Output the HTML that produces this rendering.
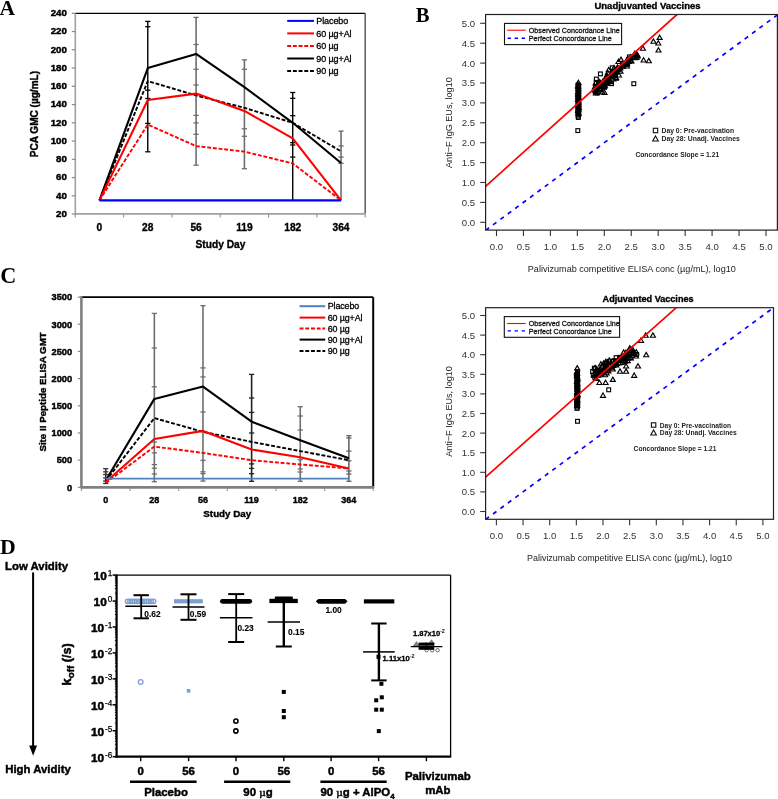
<!DOCTYPE html>
<html><head><meta charset="utf-8"><title>Figure</title>
<style>html,body{margin:0;padding:0;background:#fff;overflow:hidden;}svg{display:block;}</style></head>
<body><svg width="778" height="799" viewBox="0 0 778 799">
<rect x="0" y="0" width="778" height="799" fill="#fff"/>
<text x="-0.6" y="14.6" font-family="Liberation Serif, Times New Roman, serif" font-size="21.5" font-weight="bold" text-anchor="start" fill="#000" >A</text>
<text x="415.8" y="21.8" font-family="Liberation Serif, Times New Roman, serif" font-size="20.6" font-weight="bold" text-anchor="start" fill="#000" >B</text>
<text x="0.2" y="282.5" font-family="Liberation Serif, Times New Roman, serif" font-size="22.2" font-weight="bold" text-anchor="start" fill="#000" >C</text>
<text x="0.1" y="553.7" font-family="Liberation Serif, Times New Roman, serif" font-size="21.8" font-weight="bold" text-anchor="start" fill="#000" >D</text>
<line x1="75.3" y1="13.3" x2="365.2" y2="13.3" stroke="#000" stroke-width="1.3" />
<line x1="365.2" y1="13.3" x2="365.2" y2="213.9" stroke="#666" stroke-width="1.6" />
<line x1="75.3" y1="13.3" x2="75.3" y2="213.9" stroke="#a0a0a0" stroke-width="1.6" />
<line x1="74.5" y1="213.9" x2="366" y2="213.9" stroke="#a0a0a0" stroke-width="1.6" />
<line x1="71.8" y1="214.05" x2="75.3" y2="214.05" stroke="#888" stroke-width="1.2" />
<text x="66.8" y="216.92" font-family="Liberation Sans, Arial, sans-serif" font-size="9.7" font-weight="bold" text-anchor="end" fill="#000" stroke="#000" stroke-width="0.45" stroke-linejoin="round" >20</text>
<line x1="71.8" y1="195.8" x2="75.3" y2="195.8" stroke="#888" stroke-width="1.2" />
<text x="66.8" y="198.67" font-family="Liberation Sans, Arial, sans-serif" font-size="9.7" font-weight="bold" text-anchor="end" fill="#000" stroke="#000" stroke-width="0.45" stroke-linejoin="round" >40</text>
<line x1="71.8" y1="177.55" x2="75.3" y2="177.55" stroke="#888" stroke-width="1.2" />
<text x="66.8" y="180.42" font-family="Liberation Sans, Arial, sans-serif" font-size="9.7" font-weight="bold" text-anchor="end" fill="#000" stroke="#000" stroke-width="0.45" stroke-linejoin="round" >60</text>
<line x1="71.8" y1="159.3" x2="75.3" y2="159.3" stroke="#888" stroke-width="1.2" />
<text x="66.8" y="162.17" font-family="Liberation Sans, Arial, sans-serif" font-size="9.7" font-weight="bold" text-anchor="end" fill="#000" stroke="#000" stroke-width="0.45" stroke-linejoin="round" >80</text>
<line x1="71.8" y1="141.05" x2="75.3" y2="141.05" stroke="#888" stroke-width="1.2" />
<text x="66.8" y="143.92" font-family="Liberation Sans, Arial, sans-serif" font-size="9.7" font-weight="bold" text-anchor="end" fill="#000" stroke="#000" stroke-width="0.45" stroke-linejoin="round" >100</text>
<line x1="71.8" y1="122.8" x2="75.3" y2="122.8" stroke="#888" stroke-width="1.2" />
<text x="66.8" y="125.67" font-family="Liberation Sans, Arial, sans-serif" font-size="9.7" font-weight="bold" text-anchor="end" fill="#000" stroke="#000" stroke-width="0.45" stroke-linejoin="round" >120</text>
<line x1="71.8" y1="104.55" x2="75.3" y2="104.55" stroke="#888" stroke-width="1.2" />
<text x="66.8" y="107.42" font-family="Liberation Sans, Arial, sans-serif" font-size="9.7" font-weight="bold" text-anchor="end" fill="#000" stroke="#000" stroke-width="0.45" stroke-linejoin="round" >140</text>
<line x1="71.8" y1="86.3" x2="75.3" y2="86.3" stroke="#888" stroke-width="1.2" />
<text x="66.8" y="89.17" font-family="Liberation Sans, Arial, sans-serif" font-size="9.7" font-weight="bold" text-anchor="end" fill="#000" stroke="#000" stroke-width="0.45" stroke-linejoin="round" >160</text>
<line x1="71.8" y1="68.05" x2="75.3" y2="68.05" stroke="#888" stroke-width="1.2" />
<text x="66.8" y="70.92" font-family="Liberation Sans, Arial, sans-serif" font-size="9.7" font-weight="bold" text-anchor="end" fill="#000" stroke="#000" stroke-width="0.45" stroke-linejoin="round" >180</text>
<line x1="71.8" y1="49.8" x2="75.3" y2="49.8" stroke="#888" stroke-width="1.2" />
<text x="66.8" y="52.67" font-family="Liberation Sans, Arial, sans-serif" font-size="9.7" font-weight="bold" text-anchor="end" fill="#000" stroke="#000" stroke-width="0.45" stroke-linejoin="round" >200</text>
<line x1="71.8" y1="31.55" x2="75.3" y2="31.55" stroke="#888" stroke-width="1.2" />
<text x="66.8" y="34.42" font-family="Liberation Sans, Arial, sans-serif" font-size="9.7" font-weight="bold" text-anchor="end" fill="#000" stroke="#000" stroke-width="0.45" stroke-linejoin="round" >220</text>
<line x1="71.8" y1="13.3" x2="75.3" y2="13.3" stroke="#888" stroke-width="1.2" />
<text x="66.8" y="16.17" font-family="Liberation Sans, Arial, sans-serif" font-size="9.7" font-weight="bold" text-anchor="end" fill="#000" stroke="#000" stroke-width="0.45" stroke-linejoin="round" >240</text>
<line x1="75.3" y1="213.9" x2="75.3" y2="217.5" stroke="#999" stroke-width="1.2" />
<line x1="123.62" y1="213.9" x2="123.62" y2="217.5" stroke="#999" stroke-width="1.2" />
<line x1="171.93" y1="213.9" x2="171.93" y2="217.5" stroke="#999" stroke-width="1.2" />
<line x1="220.25" y1="213.9" x2="220.25" y2="217.5" stroke="#999" stroke-width="1.2" />
<line x1="268.57" y1="213.9" x2="268.57" y2="217.5" stroke="#999" stroke-width="1.2" />
<line x1="316.88" y1="213.9" x2="316.88" y2="217.5" stroke="#999" stroke-width="1.2" />
<line x1="365.2" y1="213.9" x2="365.2" y2="217.5" stroke="#999" stroke-width="1.2" />
<text x="99.46" y="231.35" font-family="Liberation Sans, Arial, sans-serif" font-size="10.2" font-weight="bold" text-anchor="middle" fill="#000" stroke="#000" stroke-width="0.35" stroke-linejoin="round" >0</text>
<text x="147.77" y="231.35" font-family="Liberation Sans, Arial, sans-serif" font-size="10.2" font-weight="bold" text-anchor="middle" fill="#000" stroke="#000" stroke-width="0.35" stroke-linejoin="round" >28</text>
<text x="196.09" y="231.35" font-family="Liberation Sans, Arial, sans-serif" font-size="10.2" font-weight="bold" text-anchor="middle" fill="#000" stroke="#000" stroke-width="0.35" stroke-linejoin="round" >56</text>
<text x="244.41" y="231.35" font-family="Liberation Sans, Arial, sans-serif" font-size="10.2" font-weight="bold" text-anchor="middle" fill="#000" stroke="#000" stroke-width="0.35" stroke-linejoin="round" >119</text>
<text x="292.72" y="231.35" font-family="Liberation Sans, Arial, sans-serif" font-size="10.2" font-weight="bold" text-anchor="middle" fill="#000" stroke="#000" stroke-width="0.35" stroke-linejoin="round" >182</text>
<text x="341.04" y="231.35" font-family="Liberation Sans, Arial, sans-serif" font-size="10.2" font-weight="bold" text-anchor="middle" fill="#000" stroke="#000" stroke-width="0.35" stroke-linejoin="round" >364</text>
<text x="220.5" y="247.65" font-family="Liberation Sans, Arial, sans-serif" font-size="10.2" font-weight="bold" text-anchor="middle" fill="#000" stroke="#000" stroke-width="0.35" stroke-linejoin="round" >Study Day</text>
<text transform="translate(38.4,114.1) rotate(-90)" font-family="Liberation Sans, Arial, sans-serif" font-size="10.05" font-weight="bold" text-anchor="middle" fill="#000" stroke="#000" stroke-width="0.4" stroke-linejoin="round">PCA GMC (µg/mL)</text>
<line x1="147.77" y1="21.4" x2="147.77" y2="151.8" stroke="#000" stroke-width="1.4" />
<line x1="145.17" y1="21.4" x2="150.37" y2="21.4" stroke="#000" stroke-width="1.3" />
<line x1="145.17" y1="26.7" x2="150.37" y2="26.7" stroke="#000" stroke-width="1.3" />
<line x1="145.17" y1="90.2" x2="150.37" y2="90.2" stroke="#000" stroke-width="1.3" />
<line x1="145.17" y1="98.5" x2="150.37" y2="98.5" stroke="#000" stroke-width="1.3" />
<line x1="145.17" y1="123.4" x2="150.37" y2="123.4" stroke="#000" stroke-width="1.3" />
<line x1="145.17" y1="151.8" x2="150.37" y2="151.8" stroke="#000" stroke-width="1.3" />
<line x1="196.09" y1="17.4" x2="196.09" y2="165.2" stroke="#6e6e6e" stroke-width="1.6" />
<line x1="193.49" y1="17.4" x2="198.69" y2="17.4" stroke="#6e6e6e" stroke-width="1.3" />
<line x1="193.49" y1="44.5" x2="198.69" y2="44.5" stroke="#6e6e6e" stroke-width="1.3" />
<line x1="193.49" y1="69.3" x2="198.69" y2="69.3" stroke="#6e6e6e" stroke-width="1.3" />
<line x1="193.49" y1="85" x2="198.69" y2="85" stroke="#6e6e6e" stroke-width="1.3" />
<line x1="193.49" y1="115.4" x2="198.69" y2="115.4" stroke="#6e6e6e" stroke-width="1.3" />
<line x1="193.49" y1="122.9" x2="198.69" y2="122.9" stroke="#6e6e6e" stroke-width="1.3" />
<line x1="193.49" y1="134.3" x2="198.69" y2="134.3" stroke="#6e6e6e" stroke-width="1.3" />
<line x1="193.49" y1="165.2" x2="198.69" y2="165.2" stroke="#6e6e6e" stroke-width="1.3" />
<line x1="244.41" y1="59.8" x2="244.41" y2="168.7" stroke="#6e6e6e" stroke-width="1.6" />
<line x1="241.81" y1="59.8" x2="247.01" y2="59.8" stroke="#6e6e6e" stroke-width="1.3" />
<line x1="241.81" y1="69.3" x2="247.01" y2="69.3" stroke="#6e6e6e" stroke-width="1.3" />
<line x1="241.81" y1="128.8" x2="247.01" y2="128.8" stroke="#6e6e6e" stroke-width="1.3" />
<line x1="241.81" y1="136.3" x2="247.01" y2="136.3" stroke="#6e6e6e" stroke-width="1.3" />
<line x1="241.81" y1="168.7" x2="247.01" y2="168.7" stroke="#6e6e6e" stroke-width="1.3" />
<line x1="292.72" y1="92.5" x2="292.72" y2="200.5" stroke="#000" stroke-width="1.4" />
<line x1="290.12" y1="92.5" x2="295.32" y2="92.5" stroke="#000" stroke-width="1.3" />
<line x1="290.12" y1="98.3" x2="295.32" y2="98.3" stroke="#000" stroke-width="1.3" />
<line x1="290.12" y1="115.7" x2="295.32" y2="115.7" stroke="#000" stroke-width="1.3" />
<line x1="290.12" y1="142.7" x2="295.32" y2="142.7" stroke="#000" stroke-width="1.3" />
<line x1="290.12" y1="145" x2="295.32" y2="145" stroke="#000" stroke-width="1.3" />
<line x1="290.12" y1="157.1" x2="295.32" y2="157.1" stroke="#000" stroke-width="1.3" />
<line x1="341.04" y1="131.1" x2="341.04" y2="200.5" stroke="#6e6e6e" stroke-width="1.6" />
<line x1="338.44" y1="131.1" x2="343.64" y2="131.1" stroke="#6e6e6e" stroke-width="1.3" />
<line x1="338.44" y1="145.9" x2="343.64" y2="145.9" stroke="#6e6e6e" stroke-width="1.3" />
<line x1="338.44" y1="157.1" x2="343.64" y2="157.1" stroke="#6e6e6e" stroke-width="1.3" />
<line x1="338.44" y1="163.3" x2="343.64" y2="163.3" stroke="#6e6e6e" stroke-width="1.3" />
<polyline points="99.46,200.36 147.77,81.1 196.09,95.42 244.41,107.83 292.72,122.8 341.04,151.36" fill="none" stroke="#000" stroke-width="1.9" stroke-linejoin="round" stroke-dasharray="3.9,1.8"/>
<polyline points="99.46,200.36 147.77,68.05 196.09,53.91 244.41,87.21 292.72,122.8 341.04,162.95" fill="none" stroke="#000" stroke-width="2.1" stroke-linejoin="round" />
<polyline points="99.46,200.36 147.77,124.62 196.09,146.07 244.41,151.64 292.72,163.41 341.04,200.36" fill="none" stroke="#ff0000" stroke-width="1.9" stroke-linejoin="round" stroke-dasharray="3.9,1.8"/>
<polyline points="99.46,200.36 147.77,99.99 196.09,93.6 244.41,110.94 292.72,138.31 341.04,200.36" fill="none" stroke="#ff0000" stroke-width="2.1" stroke-linejoin="round" />
<polyline points="99.46,200.36 147.77,200.36 196.09,200.36 244.41,200.36 292.72,200.36 341.04,200.36" fill="none" stroke="#0000ff" stroke-width="2.1" stroke-linejoin="round" />
<line x1="287.2" y1="20.9" x2="314" y2="20.9" stroke="#0000ff" stroke-width="2" />
<text x="316.3" y="24.12" font-family="Liberation Sans, Arial, sans-serif" font-size="9" font-weight="normal" text-anchor="start" fill="#000" stroke="#000" stroke-width="0.3" stroke-linejoin="round" letter-spacing="-0.1">Placebo</text>
<line x1="287.2" y1="33.4" x2="314" y2="33.4" stroke="#ff0000" stroke-width="2" />
<text x="316.3" y="36.62" font-family="Liberation Sans, Arial, sans-serif" font-size="9" font-weight="normal" text-anchor="start" fill="#000" stroke="#000" stroke-width="0.3" stroke-linejoin="round" letter-spacing="-0.1">60 µg+Al</text>
<line x1="287.2" y1="45.9" x2="314" y2="45.9" stroke="#ff0000" stroke-width="2" stroke-dasharray="3.9,1.8"/>
<text x="316.3" y="49.12" font-family="Liberation Sans, Arial, sans-serif" font-size="9" font-weight="normal" text-anchor="start" fill="#000" stroke="#000" stroke-width="0.3" stroke-linejoin="round" letter-spacing="-0.1">60 µg</text>
<line x1="287.2" y1="58.5" x2="314" y2="58.5" stroke="#000" stroke-width="2" />
<text x="316.3" y="61.72" font-family="Liberation Sans, Arial, sans-serif" font-size="9" font-weight="normal" text-anchor="start" fill="#000" stroke="#000" stroke-width="0.3" stroke-linejoin="round" letter-spacing="-0.1">90 µg+Al</text>
<line x1="287.2" y1="71" x2="314" y2="71" stroke="#000" stroke-width="2" stroke-dasharray="3.9,1.8"/>
<text x="316.3" y="74.22" font-family="Liberation Sans, Arial, sans-serif" font-size="9" font-weight="normal" text-anchor="start" fill="#000" stroke="#000" stroke-width="0.3" stroke-linejoin="round" letter-spacing="-0.1">90 µg</text>
<text x="647.5" y="9.2" font-family="Liberation Sans, Arial, sans-serif" font-size="9.5" font-weight="bold" text-anchor="middle" fill="#000" stroke="#000" stroke-width="0.35" stroke-linejoin="round" >Unadjuvanted Vaccines</text>
<clipPath id="cp14"><rect x="485.6" y="14.5" width="291.8" height="215.6"/></clipPath>
<g clip-path="url(#cp14)">
<line x1="485.6" y1="230.35" x2="777.4" y2="14.88" stroke="#0000ff" stroke-width="1.7" stroke-dasharray="4.3,4.9"/>
</g>
<rect x="576.21" y="83.1" width="3.8" height="3.8" fill="none" stroke="#000" stroke-width="1.15" />
<rect x="576.78" y="84.4" width="3.8" height="3.8" fill="none" stroke="#000" stroke-width="1.15" />
<rect x="576.71" y="85.7" width="3.8" height="3.8" fill="none" stroke="#000" stroke-width="1.15" />
<rect x="576.3" y="87" width="3.8" height="3.8" fill="none" stroke="#000" stroke-width="1.15" />
<rect x="576.5" y="88.3" width="3.8" height="3.8" fill="none" stroke="#000" stroke-width="1.15" />
<rect x="576.46" y="89.6" width="3.8" height="3.8" fill="none" stroke="#000" stroke-width="1.15" />
<rect x="576.62" y="90.9" width="3.8" height="3.8" fill="none" stroke="#000" stroke-width="1.15" />
<rect x="576.73" y="92.2" width="3.8" height="3.8" fill="none" stroke="#000" stroke-width="1.15" />
<rect x="576.18" y="93.5" width="3.8" height="3.8" fill="none" stroke="#000" stroke-width="1.15" />
<rect x="576.12" y="94.8" width="3.8" height="3.8" fill="none" stroke="#000" stroke-width="1.15" />
<rect x="576.77" y="96.1" width="3.8" height="3.8" fill="none" stroke="#000" stroke-width="1.15" />
<rect x="576.45" y="97.4" width="3.8" height="3.8" fill="none" stroke="#000" stroke-width="1.15" />
<rect x="576.71" y="98.7" width="3.8" height="3.8" fill="none" stroke="#000" stroke-width="1.15" />
<rect x="576.1" y="100" width="3.8" height="3.8" fill="none" stroke="#000" stroke-width="1.15" />
<rect x="576.46" y="101.3" width="3.8" height="3.8" fill="none" stroke="#000" stroke-width="1.15" />
<rect x="576.68" y="102.6" width="3.8" height="3.8" fill="none" stroke="#000" stroke-width="1.15" />
<rect x="576.28" y="103.9" width="3.8" height="3.8" fill="none" stroke="#000" stroke-width="1.15" />
<rect x="576.86" y="105.2" width="3.8" height="3.8" fill="none" stroke="#000" stroke-width="1.15" />
<rect x="576.82" y="106.5" width="3.8" height="3.8" fill="none" stroke="#000" stroke-width="1.15" />
<rect x="576.12" y="107.8" width="3.8" height="3.8" fill="none" stroke="#000" stroke-width="1.15" />
<rect x="576.12" y="109.1" width="3.8" height="3.8" fill="none" stroke="#000" stroke-width="1.15" />
<rect x="576.53" y="110.4" width="3.8" height="3.8" fill="none" stroke="#000" stroke-width="1.15" />
<rect x="576.85" y="111.7" width="3.8" height="3.8" fill="none" stroke="#000" stroke-width="1.15" />
<rect x="576.4" y="113" width="3.8" height="3.8" fill="none" stroke="#000" stroke-width="1.15" />
<rect x="576.27" y="114.3" width="3.8" height="3.8" fill="none" stroke="#000" stroke-width="1.15" />
<rect x="576.44" y="115.6" width="3.8" height="3.8" fill="none" stroke="#000" stroke-width="1.15" />
<polygon points="578.02,82.6 580.52,86.9 575.52,86.9" fill="none" stroke="#000" stroke-width="1.15" stroke-linejoin="miter"/>
<polygon points="578.18,84.2 580.68,88.5 575.68,88.5" fill="none" stroke="#000" stroke-width="1.15" stroke-linejoin="miter"/>
<polygon points="578.35,85.8 580.85,90.1 575.85,90.1" fill="none" stroke="#000" stroke-width="1.15" stroke-linejoin="miter"/>
<polygon points="578.4,87.4 580.9,91.7 575.9,91.7" fill="none" stroke="#000" stroke-width="1.15" stroke-linejoin="miter"/>
<polygon points="578.19,89 580.69,93.3 575.69,93.3" fill="none" stroke="#000" stroke-width="1.15" stroke-linejoin="miter"/>
<polygon points="578.18,90.6 580.68,94.9 575.68,94.9" fill="none" stroke="#000" stroke-width="1.15" stroke-linejoin="miter"/>
<polygon points="578.18,92.2 580.68,96.5 575.68,96.5" fill="none" stroke="#000" stroke-width="1.15" stroke-linejoin="miter"/>
<polygon points="578.37,93.8 580.87,98.1 575.87,98.1" fill="none" stroke="#000" stroke-width="1.15" stroke-linejoin="miter"/>
<polygon points="578.23,95.4 580.73,99.7 575.73,99.7" fill="none" stroke="#000" stroke-width="1.15" stroke-linejoin="miter"/>
<polygon points="578.02,97 580.52,101.3 575.52,101.3" fill="none" stroke="#000" stroke-width="1.15" stroke-linejoin="miter"/>
<polygon points="578.67,98.6 581.17,102.9 576.17,102.9" fill="none" stroke="#000" stroke-width="1.15" stroke-linejoin="miter"/>
<polygon points="578.45,100.2 580.95,104.5 575.95,104.5" fill="none" stroke="#000" stroke-width="1.15" stroke-linejoin="miter"/>
<polygon points="578.51,101.8 581.01,106.1 576.01,106.1" fill="none" stroke="#000" stroke-width="1.15" stroke-linejoin="miter"/>
<polygon points="578.15,103.4 580.65,107.7 575.65,107.7" fill="none" stroke="#000" stroke-width="1.15" stroke-linejoin="miter"/>
<polygon points="578.79,105 581.29,109.3 576.29,109.3" fill="none" stroke="#000" stroke-width="1.15" stroke-linejoin="miter"/>
<polygon points="578.69,106.6 581.19,110.9 576.19,110.9" fill="none" stroke="#000" stroke-width="1.15" stroke-linejoin="miter"/>
<polygon points="578.1,108.2 580.6,112.5 575.6,112.5" fill="none" stroke="#000" stroke-width="1.15" stroke-linejoin="miter"/>
<polygon points="578.27,109.8 580.77,114.1 575.77,114.1" fill="none" stroke="#000" stroke-width="1.15" stroke-linejoin="miter"/>
<polygon points="578.58,111.4 581.08,115.7 576.08,115.7" fill="none" stroke="#000" stroke-width="1.15" stroke-linejoin="miter"/>
<polygon points="626.96,63.65 629.46,67.95 624.46,67.95" fill="none" stroke="#000" stroke-width="1.15" stroke-linejoin="miter"/>
<polygon points="606.92,76.01 609.42,80.31 604.42,80.31" fill="none" stroke="#000" stroke-width="1.15" stroke-linejoin="miter"/>
<rect x="627.48" y="54.98" width="3.8" height="3.8" fill="none" stroke="#000" stroke-width="1.15" />
<polygon points="615.25,70.22 617.75,74.52 612.75,74.52" fill="none" stroke="#000" stroke-width="1.15" stroke-linejoin="miter"/>
<polygon points="613.32,73.79 615.82,78.09 610.82,78.09" fill="none" stroke="#000" stroke-width="1.15" stroke-linejoin="miter"/>
<rect x="597.81" y="87.24" width="3.8" height="3.8" fill="none" stroke="#000" stroke-width="1.15" />
<polygon points="626.92,57.59 629.42,61.89 624.42,61.89" fill="none" stroke="#000" stroke-width="1.15" stroke-linejoin="miter"/>
<polygon points="626.23,60.84 628.73,65.14 623.73,65.14" fill="none" stroke="#000" stroke-width="1.15" stroke-linejoin="miter"/>
<polygon points="594.84,84.72 597.34,89.02 592.34,89.02" fill="none" stroke="#000" stroke-width="1.15" stroke-linejoin="miter"/>
<polygon points="618.47,59.15 620.97,63.45 615.97,63.45" fill="none" stroke="#000" stroke-width="1.15" stroke-linejoin="miter"/>
<polygon points="618.9,72.65 621.4,76.95 616.4,76.95" fill="none" stroke="#000" stroke-width="1.15" stroke-linejoin="miter"/>
<polygon points="611.69,72.71 614.19,77.01 609.19,77.01" fill="none" stroke="#000" stroke-width="1.15" stroke-linejoin="miter"/>
<polygon points="634.6,51.26 637.1,55.56 632.1,55.56" fill="none" stroke="#000" stroke-width="1.15" stroke-linejoin="miter"/>
<rect x="620.5" y="63.31" width="3.8" height="3.8" fill="none" stroke="#000" stroke-width="1.15" />
<polygon points="613.45,76.69 615.95,80.99 610.95,80.99" fill="none" stroke="#000" stroke-width="1.15" stroke-linejoin="miter"/>
<polygon points="614.03,65.3 616.53,69.6 611.53,69.6" fill="none" stroke="#000" stroke-width="1.15" stroke-linejoin="miter"/>
<polygon points="615.84,75.78 618.34,80.08 613.34,80.08" fill="none" stroke="#000" stroke-width="1.15" stroke-linejoin="miter"/>
<polygon points="636.67,54.77 639.17,59.07 634.17,59.07" fill="none" stroke="#000" stroke-width="1.15" stroke-linejoin="miter"/>
<polygon points="614.65,69.07 617.15,73.37 612.15,73.37" fill="none" stroke="#000" stroke-width="1.15" stroke-linejoin="miter"/>
<rect x="613.56" y="72.94" width="3.8" height="3.8" fill="none" stroke="#000" stroke-width="1.15" />
<polygon points="628.31,56.92 630.81,61.22 625.81,61.22" fill="none" stroke="#000" stroke-width="1.15" stroke-linejoin="miter"/>
<polygon points="630.62,54.65 633.12,58.95 628.12,58.95" fill="none" stroke="#000" stroke-width="1.15" stroke-linejoin="miter"/>
<rect x="594.27" y="87.81" width="3.8" height="3.8" fill="none" stroke="#000" stroke-width="1.15" />
<polygon points="613.92,71.05 616.42,75.35 611.42,75.35" fill="none" stroke="#000" stroke-width="1.15" stroke-linejoin="miter"/>
<polygon points="606.83,80.72 609.33,85.02 604.33,85.02" fill="none" stroke="#000" stroke-width="1.15" stroke-linejoin="miter"/>
<polygon points="608.33,78.88 610.83,83.18 605.83,83.18" fill="none" stroke="#000" stroke-width="1.15" stroke-linejoin="miter"/>
<polygon points="600.3,80.9 602.8,85.2 597.8,85.2" fill="none" stroke="#000" stroke-width="1.15" stroke-linejoin="miter"/>
<polygon points="622.55,63.98 625.05,68.28 620.05,68.28" fill="none" stroke="#000" stroke-width="1.15" stroke-linejoin="miter"/>
<rect x="611.54" y="70.82" width="3.8" height="3.8" fill="none" stroke="#000" stroke-width="1.15" />
<polygon points="609.48,78.33 611.98,82.63 606.98,82.63" fill="none" stroke="#000" stroke-width="1.15" stroke-linejoin="miter"/>
<polygon points="612.99,72.8 615.49,77.1 610.49,77.1" fill="none" stroke="#000" stroke-width="1.15" stroke-linejoin="miter"/>
<polygon points="637.36,53.41 639.86,57.71 634.86,57.71" fill="none" stroke="#000" stroke-width="1.15" stroke-linejoin="miter"/>
<polygon points="630.43,58.36 632.93,62.66 627.93,62.66" fill="none" stroke="#000" stroke-width="1.15" stroke-linejoin="miter"/>
<polygon points="595.78,86.59 598.28,90.89 593.28,90.89" fill="none" stroke="#000" stroke-width="1.15" stroke-linejoin="miter"/>
<polygon points="612.19,69.62 614.69,73.92 609.69,73.92" fill="none" stroke="#000" stroke-width="1.15" stroke-linejoin="miter"/>
<polygon points="637.11,52.09 639.61,56.39 634.61,56.39" fill="none" stroke="#000" stroke-width="1.15" stroke-linejoin="miter"/>
<polygon points="603.1,78.58 605.6,82.88 600.6,82.88" fill="none" stroke="#000" stroke-width="1.15" stroke-linejoin="miter"/>
<polygon points="621.99,62.26 624.49,66.56 619.49,66.56" fill="none" stroke="#000" stroke-width="1.15" stroke-linejoin="miter"/>
<rect x="593.67" y="84.73" width="3.8" height="3.8" fill="none" stroke="#000" stroke-width="1.15" />
<rect x="609.61" y="81.77" width="3.8" height="3.8" fill="none" stroke="#000" stroke-width="1.15" />
<polygon points="610.19,79.33 612.69,83.63 607.69,83.63" fill="none" stroke="#000" stroke-width="1.15" stroke-linejoin="miter"/>
<polygon points="618.11,66.08 620.61,70.38 615.61,70.38" fill="none" stroke="#000" stroke-width="1.15" stroke-linejoin="miter"/>
<polygon points="594.87,87.89 597.37,92.19 592.37,92.19" fill="none" stroke="#000" stroke-width="1.15" stroke-linejoin="miter"/>
<polygon points="636.23,52.36 638.73,56.66 633.73,56.66" fill="none" stroke="#000" stroke-width="1.15" stroke-linejoin="miter"/>
<rect x="602.63" y="85.43" width="3.8" height="3.8" fill="none" stroke="#000" stroke-width="1.15" />
<polygon points="607.77,70.35 610.27,74.65 605.27,74.65" fill="none" stroke="#000" stroke-width="1.15" stroke-linejoin="miter"/>
<polygon points="595.63,80.69 598.13,84.99 593.13,84.99" fill="none" stroke="#000" stroke-width="1.15" stroke-linejoin="miter"/>
<polygon points="614.4,68.11 616.9,72.41 611.9,72.41" fill="none" stroke="#000" stroke-width="1.15" stroke-linejoin="miter"/>
<polygon points="605.86,75.39 608.36,79.69 603.36,79.69" fill="none" stroke="#000" stroke-width="1.15" stroke-linejoin="miter"/>
<rect x="631.88" y="55.49" width="3.8" height="3.8" fill="none" stroke="#000" stroke-width="1.15" />
<polygon points="602.85,84.21 605.35,88.51 600.35,88.51" fill="none" stroke="#000" stroke-width="1.15" stroke-linejoin="miter"/>
<polygon points="606.93,72.82 609.43,77.12 604.43,77.12" fill="none" stroke="#000" stroke-width="1.15" stroke-linejoin="miter"/>
<polygon points="607.15,79.59 609.65,83.89 604.65,83.89" fill="none" stroke="#000" stroke-width="1.15" stroke-linejoin="miter"/>
<polygon points="635.28,55.48 637.78,59.78 632.78,59.78" fill="none" stroke="#000" stroke-width="1.15" stroke-linejoin="miter"/>
<rect x="625.53" y="59.64" width="3.8" height="3.8" fill="none" stroke="#000" stroke-width="1.15" />
<polygon points="597.8,84.6 600.3,88.9 595.3,88.9" fill="none" stroke="#000" stroke-width="1.15" stroke-linejoin="miter"/>
<polygon points="600.34,80.33 602.84,84.63 597.84,84.63" fill="none" stroke="#000" stroke-width="1.15" stroke-linejoin="miter"/>
<polygon points="620.31,65.58 622.81,69.88 617.81,69.88" fill="none" stroke="#000" stroke-width="1.15" stroke-linejoin="miter"/>
<polygon points="609.71,73.57 612.21,77.87 607.21,77.87" fill="none" stroke="#000" stroke-width="1.15" stroke-linejoin="miter"/>
<rect x="599.32" y="84.68" width="3.8" height="3.8" fill="none" stroke="#000" stroke-width="1.15" />
<polygon points="607.06,74.62 609.56,78.92 604.56,78.92" fill="none" stroke="#000" stroke-width="1.15" stroke-linejoin="miter"/>
<polygon points="631.48,58.59 633.98,62.89 628.98,62.89" fill="none" stroke="#000" stroke-width="1.15" stroke-linejoin="miter"/>
<rect x="594.35" y="80.55" width="3.8" height="3.8" fill="none" stroke="#000" stroke-width="1.15" />
<polygon points="617.48,64.8 619.98,69.1 614.98,69.1" fill="none" stroke="#000" stroke-width="1.15" stroke-linejoin="miter"/>
<polygon points="620.49,68.85 622.99,73.15 617.99,73.15" fill="none" stroke="#000" stroke-width="1.15" stroke-linejoin="miter"/>
<rect x="616.7" y="67.21" width="3.8" height="3.8" fill="none" stroke="#000" stroke-width="1.15" />
<polygon points="613.88,70.57 616.38,74.87 611.38,74.87" fill="none" stroke="#000" stroke-width="1.15" stroke-linejoin="miter"/>
<rect x="595.49" y="91.08" width="3.8" height="3.8" fill="none" stroke="#000" stroke-width="1.15" />
<rect x="598.72" y="87.86" width="3.8" height="3.8" fill="none" stroke="#000" stroke-width="1.15" />
<polygon points="604.57,83.51 607.07,87.81 602.07,87.81" fill="none" stroke="#000" stroke-width="1.15" stroke-linejoin="miter"/>
<polygon points="599.11,79.26 601.61,83.56 596.61,83.56" fill="none" stroke="#000" stroke-width="1.15" stroke-linejoin="miter"/>
<rect x="625.73" y="62.02" width="3.8" height="3.8" fill="none" stroke="#000" stroke-width="1.15" />
<polygon points="616.05,75.22 618.55,79.52 613.55,79.52" fill="none" stroke="#000" stroke-width="1.15" stroke-linejoin="miter"/>
<polygon points="617.79,67.01 620.29,71.31 615.29,71.31" fill="none" stroke="#000" stroke-width="1.15" stroke-linejoin="miter"/>
<rect x="606.48" y="77.28" width="3.8" height="3.8" fill="none" stroke="#000" stroke-width="1.15" />
<polygon points="595.95,89 598.45,93.3 593.45,93.3" fill="none" stroke="#000" stroke-width="1.15" stroke-linejoin="miter"/>
<polygon points="625.5,60.53 628,64.83 623,64.83" fill="none" stroke="#000" stroke-width="1.15" stroke-linejoin="miter"/>
<polygon points="598.34,87.2 600.84,91.5 595.84,91.5" fill="none" stroke="#000" stroke-width="1.15" stroke-linejoin="miter"/>
<polygon points="637.59,53.31 640.09,57.61 635.09,57.61" fill="none" stroke="#000" stroke-width="1.15" stroke-linejoin="miter"/>
<polygon points="628.6,59 631.1,63.3 626.1,63.3" fill="none" stroke="#000" stroke-width="1.15" stroke-linejoin="miter"/>
<polygon points="623.2,63.54 625.7,67.84 620.7,67.84" fill="none" stroke="#000" stroke-width="1.15" stroke-linejoin="miter"/>
<polygon points="604.87,82.86 607.37,87.16 602.37,87.16" fill="none" stroke="#000" stroke-width="1.15" stroke-linejoin="miter"/>
<polygon points="596.93,83.84 599.43,88.14 594.43,88.14" fill="none" stroke="#000" stroke-width="1.15" stroke-linejoin="miter"/>
<polygon points="602.48,89.72 604.98,94.02 599.98,94.02" fill="none" stroke="#000" stroke-width="1.15" stroke-linejoin="miter"/>
<polygon points="634.57,52.27 637.07,56.57 632.07,56.57" fill="none" stroke="#000" stroke-width="1.15" stroke-linejoin="miter"/>
<polygon points="603.24,82.02 605.74,86.32 600.74,86.32" fill="none" stroke="#000" stroke-width="1.15" stroke-linejoin="miter"/>
<rect x="604.81" y="81.4" width="3.8" height="3.8" fill="none" stroke="#000" stroke-width="1.15" />
<rect x="604.32" y="80.89" width="3.8" height="3.8" fill="none" stroke="#000" stroke-width="1.15" />
<rect x="626.87" y="57.64" width="3.8" height="3.8" fill="none" stroke="#000" stroke-width="1.15" />
<rect x="625.08" y="62.56" width="3.8" height="3.8" fill="none" stroke="#000" stroke-width="1.15" />
<rect x="575.9" y="128.7" width="3.8" height="3.8" fill="none" stroke="#000" stroke-width="1.15" />
<rect x="631.9" y="81.8" width="3.8" height="3.8" fill="none" stroke="#000" stroke-width="1.15" />
<rect x="598.5" y="72" width="3.8" height="3.8" fill="none" stroke="#000" stroke-width="1.15" />
<rect x="594.4" y="77.2" width="3.8" height="3.8" fill="none" stroke="#000" stroke-width="1.15" />
<rect x="610.3" y="65.9" width="3.8" height="3.8" fill="none" stroke="#000" stroke-width="1.15" />
<polygon points="659.6,35.1 662.1,39.4 657.1,39.4" fill="none" stroke="#000" stroke-width="1.15" stroke-linejoin="miter"/>
<polygon points="653.4,38.9 655.9,43.2 650.9,43.2" fill="none" stroke="#000" stroke-width="1.15" stroke-linejoin="miter"/>
<polygon points="658.3,40.7 660.8,45 655.8,45" fill="none" stroke="#000" stroke-width="1.15" stroke-linejoin="miter"/>
<polygon points="658.5,47.7 661,52 656,52" fill="none" stroke="#000" stroke-width="1.15" stroke-linejoin="miter"/>
<polygon points="642.9,45.9 645.4,50.2 640.4,50.2" fill="none" stroke="#000" stroke-width="1.15" stroke-linejoin="miter"/>
<polygon points="643.6,57.7 646.1,62 641.1,62" fill="none" stroke="#000" stroke-width="1.15" stroke-linejoin="miter"/>
<polygon points="648.8,58.4 651.3,62.7 646.3,62.7" fill="none" stroke="#000" stroke-width="1.15" stroke-linejoin="miter"/>
<polygon points="604.5,90 607,94.3 602,94.3" fill="none" stroke="#000" stroke-width="1.15" stroke-linejoin="miter"/>
<polygon points="595.8,90.6 598.3,94.9 593.3,94.9" fill="none" stroke="#000" stroke-width="1.15" stroke-linejoin="miter"/>
<polygon points="608.7,67.4 611.2,71.7 606.2,71.7" fill="none" stroke="#000" stroke-width="1.15" stroke-linejoin="miter"/>
<polygon points="621,57.1 623.5,61.4 618.5,61.4" fill="none" stroke="#000" stroke-width="1.15" stroke-linejoin="miter"/>
<polygon points="578.4,80.2 580.9,84.5 575.9,84.5" fill="none" stroke="#000" stroke-width="1.15" stroke-linejoin="miter"/>
<g clip-path="url(#cp14)">
<line x1="485.6" y1="186.28" x2="677" y2="14.5" stroke="#ff0000" stroke-width="1.7" />
</g>
<rect x="485.6" y="14.5" width="291.8" height="215.6" fill="none" stroke="#222" stroke-width="1.2" />
<line x1="480.2" y1="222.3" x2="485.6" y2="222.3" stroke="#333" stroke-width="1.1" />
<text x="475" y="225.74" font-family="Liberation Sans, Arial, sans-serif" font-size="9.6" font-weight="normal" text-anchor="end" fill="#333" >0.0</text>
<line x1="496.5" y1="230.1" x2="496.5" y2="236.1" stroke="#333" stroke-width="1.1" />
<text x="496.5" y="250.24" font-family="Liberation Sans, Arial, sans-serif" font-size="9.6" font-weight="normal" text-anchor="middle" fill="#333" >0.0</text>
<line x1="480.2" y1="202.4" x2="485.6" y2="202.4" stroke="#333" stroke-width="1.1" />
<text x="475" y="205.84" font-family="Liberation Sans, Arial, sans-serif" font-size="9.6" font-weight="normal" text-anchor="end" fill="#333" >0.5</text>
<line x1="523.45" y1="230.1" x2="523.45" y2="236.1" stroke="#333" stroke-width="1.1" />
<text x="523.45" y="250.24" font-family="Liberation Sans, Arial, sans-serif" font-size="9.6" font-weight="normal" text-anchor="middle" fill="#333" >0.5</text>
<line x1="480.2" y1="182.5" x2="485.6" y2="182.5" stroke="#333" stroke-width="1.1" />
<text x="475" y="185.94" font-family="Liberation Sans, Arial, sans-serif" font-size="9.6" font-weight="normal" text-anchor="end" fill="#333" >1.0</text>
<line x1="550.4" y1="230.1" x2="550.4" y2="236.1" stroke="#333" stroke-width="1.1" />
<text x="550.4" y="250.24" font-family="Liberation Sans, Arial, sans-serif" font-size="9.6" font-weight="normal" text-anchor="middle" fill="#333" >1.0</text>
<line x1="480.2" y1="162.6" x2="485.6" y2="162.6" stroke="#333" stroke-width="1.1" />
<text x="475" y="166.04" font-family="Liberation Sans, Arial, sans-serif" font-size="9.6" font-weight="normal" text-anchor="end" fill="#333" >1.5</text>
<line x1="577.35" y1="230.1" x2="577.35" y2="236.1" stroke="#333" stroke-width="1.1" />
<text x="577.35" y="250.24" font-family="Liberation Sans, Arial, sans-serif" font-size="9.6" font-weight="normal" text-anchor="middle" fill="#333" >1.5</text>
<line x1="480.2" y1="142.7" x2="485.6" y2="142.7" stroke="#333" stroke-width="1.1" />
<text x="475" y="146.14" font-family="Liberation Sans, Arial, sans-serif" font-size="9.6" font-weight="normal" text-anchor="end" fill="#333" >2.0</text>
<line x1="604.3" y1="230.1" x2="604.3" y2="236.1" stroke="#333" stroke-width="1.1" />
<text x="604.3" y="250.24" font-family="Liberation Sans, Arial, sans-serif" font-size="9.6" font-weight="normal" text-anchor="middle" fill="#333" >2.0</text>
<line x1="480.2" y1="122.8" x2="485.6" y2="122.8" stroke="#333" stroke-width="1.1" />
<text x="475" y="126.24" font-family="Liberation Sans, Arial, sans-serif" font-size="9.6" font-weight="normal" text-anchor="end" fill="#333" >2.5</text>
<line x1="631.25" y1="230.1" x2="631.25" y2="236.1" stroke="#333" stroke-width="1.1" />
<text x="631.25" y="250.24" font-family="Liberation Sans, Arial, sans-serif" font-size="9.6" font-weight="normal" text-anchor="middle" fill="#333" >2.5</text>
<line x1="480.2" y1="102.9" x2="485.6" y2="102.9" stroke="#333" stroke-width="1.1" />
<text x="475" y="106.34" font-family="Liberation Sans, Arial, sans-serif" font-size="9.6" font-weight="normal" text-anchor="end" fill="#333" >3.0</text>
<line x1="658.2" y1="230.1" x2="658.2" y2="236.1" stroke="#333" stroke-width="1.1" />
<text x="658.2" y="250.24" font-family="Liberation Sans, Arial, sans-serif" font-size="9.6" font-weight="normal" text-anchor="middle" fill="#333" >3.0</text>
<line x1="480.2" y1="83" x2="485.6" y2="83" stroke="#333" stroke-width="1.1" />
<text x="475" y="86.44" font-family="Liberation Sans, Arial, sans-serif" font-size="9.6" font-weight="normal" text-anchor="end" fill="#333" >3.5</text>
<line x1="685.15" y1="230.1" x2="685.15" y2="236.1" stroke="#333" stroke-width="1.1" />
<text x="685.15" y="250.24" font-family="Liberation Sans, Arial, sans-serif" font-size="9.6" font-weight="normal" text-anchor="middle" fill="#333" >3.5</text>
<line x1="480.2" y1="63.1" x2="485.6" y2="63.1" stroke="#333" stroke-width="1.1" />
<text x="475" y="66.54" font-family="Liberation Sans, Arial, sans-serif" font-size="9.6" font-weight="normal" text-anchor="end" fill="#333" >4.0</text>
<line x1="712.1" y1="230.1" x2="712.1" y2="236.1" stroke="#333" stroke-width="1.1" />
<text x="712.1" y="250.24" font-family="Liberation Sans, Arial, sans-serif" font-size="9.6" font-weight="normal" text-anchor="middle" fill="#333" >4.0</text>
<line x1="480.2" y1="43.2" x2="485.6" y2="43.2" stroke="#333" stroke-width="1.1" />
<text x="475" y="46.64" font-family="Liberation Sans, Arial, sans-serif" font-size="9.6" font-weight="normal" text-anchor="end" fill="#333" >4.5</text>
<line x1="739.05" y1="230.1" x2="739.05" y2="236.1" stroke="#333" stroke-width="1.1" />
<text x="739.05" y="250.24" font-family="Liberation Sans, Arial, sans-serif" font-size="9.6" font-weight="normal" text-anchor="middle" fill="#333" >4.5</text>
<line x1="480.2" y1="23.3" x2="485.6" y2="23.3" stroke="#333" stroke-width="1.1" />
<text x="475" y="26.74" font-family="Liberation Sans, Arial, sans-serif" font-size="9.6" font-weight="normal" text-anchor="end" fill="#333" >5.0</text>
<line x1="766" y1="230.1" x2="766" y2="236.1" stroke="#333" stroke-width="1.1" />
<text x="766" y="250.24" font-family="Liberation Sans, Arial, sans-serif" font-size="9.6" font-weight="normal" text-anchor="middle" fill="#333" >5.0</text>
<text x="735.8" y="272.1" font-family="Liberation Sans, Arial, sans-serif" font-size="9.3" font-weight="normal" text-anchor="end" fill="#222" textLength="208" lengthAdjust="spacingAndGlyphs">Palivizumab competitive ELISA conc (µg/mL), log10</text>
<text transform="translate(451.8,122.6) rotate(-90)" font-family="Liberation Sans, Arial, sans-serif" font-size="9.1" text-anchor="middle" fill="#222">Anti−F IgG EUs, log10</text>
<rect x="504.5" y="23.4" width="117.1" height="21.2" fill="#fff" stroke="#111" stroke-width="1.1" />
<line x1="507.2" y1="30.2" x2="525.7" y2="30.2" stroke="#ff0000" stroke-width="1.1" />
<line x1="507.6" y1="38.3" x2="525.7" y2="38.3" stroke="#0000ff" stroke-width="1.4" stroke-dasharray="3.4,3.6"/>
<text x="528.8" y="32.9" font-family="Liberation Sans, Arial, sans-serif" font-size="7.6" font-weight="normal" text-anchor="start" fill="#111" stroke="#111" stroke-width="0.3" stroke-linejoin="round" textLength="91" lengthAdjust="spacingAndGlyphs">Observed Concordance Line</text>
<text x="528.8" y="41" font-family="Liberation Sans, Arial, sans-serif" font-size="7.6" font-weight="normal" text-anchor="start" fill="#111" stroke="#111" stroke-width="0.3" stroke-linejoin="round" textLength="83" lengthAdjust="spacingAndGlyphs">Perfect Concordance Line</text>
<rect x="653.3" y="128.3" width="4.4" height="4.4" fill="none" stroke="#111" stroke-width="1.1" />
<polygon points="655.5,136 658.3,141 652.7,141" fill="none" stroke="#111" stroke-width="1.1"/>
<text x="661.6" y="133.1" font-family="Liberation Sans, Arial, sans-serif" font-size="7.3" font-weight="bold" text-anchor="start" fill="#222" textLength="72.5" lengthAdjust="spacingAndGlyphs">Day 0: Pre-vaccination</text>
<text x="661.6" y="141.4" font-family="Liberation Sans, Arial, sans-serif" font-size="7.3" font-weight="bold" text-anchor="start" fill="#222" textLength="78.2" lengthAdjust="spacingAndGlyphs">Day 28: Unadj. Vaccines</text>
<text x="635.4" y="156.8" font-family="Liberation Sans, Arial, sans-serif" font-size="7.3" font-weight="bold" text-anchor="start" fill="#222" textLength="83.8" lengthAdjust="spacingAndGlyphs">Concordance Slope = 1.21</text>
<text x="648.1" y="302.26" font-family="Liberation Sans, Arial, sans-serif" font-size="9.1" font-weight="bold" text-anchor="middle" fill="#000" stroke="#000" stroke-width="0.35" stroke-linejoin="round" >Adjuvanted Vaccines</text>
<clipPath id="cp307"><rect x="485.6" y="307.7" width="287.9" height="211.6"/></clipPath>
<g clip-path="url(#cp307)">
<line x1="485.6" y1="519.44" x2="773.5" y2="307.7" stroke="#0000ff" stroke-width="1.7" stroke-dasharray="4.3,4.9"/>
</g>
<rect x="575.66" y="370.1" width="3.8" height="3.8" fill="none" stroke="#000" stroke-width="1.15" />
<rect x="575.66" y="371.4" width="3.8" height="3.8" fill="none" stroke="#000" stroke-width="1.15" />
<rect x="574.95" y="372.7" width="3.8" height="3.8" fill="none" stroke="#000" stroke-width="1.15" />
<rect x="574.97" y="374" width="3.8" height="3.8" fill="none" stroke="#000" stroke-width="1.15" />
<rect x="575.57" y="375.3" width="3.8" height="3.8" fill="none" stroke="#000" stroke-width="1.15" />
<rect x="575.49" y="376.6" width="3.8" height="3.8" fill="none" stroke="#000" stroke-width="1.15" />
<rect x="575.44" y="377.9" width="3.8" height="3.8" fill="none" stroke="#000" stroke-width="1.15" />
<rect x="575.15" y="379.2" width="3.8" height="3.8" fill="none" stroke="#000" stroke-width="1.15" />
<rect x="575.38" y="380.5" width="3.8" height="3.8" fill="none" stroke="#000" stroke-width="1.15" />
<rect x="575.39" y="381.8" width="3.8" height="3.8" fill="none" stroke="#000" stroke-width="1.15" />
<rect x="575.36" y="383.1" width="3.8" height="3.8" fill="none" stroke="#000" stroke-width="1.15" />
<rect x="575.03" y="384.4" width="3.8" height="3.8" fill="none" stroke="#000" stroke-width="1.15" />
<rect x="575.24" y="385.7" width="3.8" height="3.8" fill="none" stroke="#000" stroke-width="1.15" />
<rect x="575.21" y="387" width="3.8" height="3.8" fill="none" stroke="#000" stroke-width="1.15" />
<rect x="575.48" y="388.3" width="3.8" height="3.8" fill="none" stroke="#000" stroke-width="1.15" />
<rect x="575.7" y="389.6" width="3.8" height="3.8" fill="none" stroke="#000" stroke-width="1.15" />
<rect x="575.66" y="390.9" width="3.8" height="3.8" fill="none" stroke="#000" stroke-width="1.15" />
<rect x="575.34" y="392.2" width="3.8" height="3.8" fill="none" stroke="#000" stroke-width="1.15" />
<rect x="575.26" y="393.5" width="3.8" height="3.8" fill="none" stroke="#000" stroke-width="1.15" />
<rect x="575.11" y="394.8" width="3.8" height="3.8" fill="none" stroke="#000" stroke-width="1.15" />
<rect x="574.93" y="396.1" width="3.8" height="3.8" fill="none" stroke="#000" stroke-width="1.15" />
<rect x="574.92" y="397.4" width="3.8" height="3.8" fill="none" stroke="#000" stroke-width="1.15" />
<rect x="575.27" y="398.7" width="3.8" height="3.8" fill="none" stroke="#000" stroke-width="1.15" />
<rect x="575.15" y="400" width="3.8" height="3.8" fill="none" stroke="#000" stroke-width="1.15" />
<rect x="575.2" y="401.3" width="3.8" height="3.8" fill="none" stroke="#000" stroke-width="1.15" />
<rect x="575.61" y="402.6" width="3.8" height="3.8" fill="none" stroke="#000" stroke-width="1.15" />
<rect x="575.32" y="403.9" width="3.8" height="3.8" fill="none" stroke="#000" stroke-width="1.15" />
<rect x="575.35" y="405.2" width="3.8" height="3.8" fill="none" stroke="#000" stroke-width="1.15" />
<rect x="575.09" y="406.5" width="3.8" height="3.8" fill="none" stroke="#000" stroke-width="1.15" />
<polygon points="576.82,369.6 579.32,373.9 574.32,373.9" fill="none" stroke="#000" stroke-width="1.15" stroke-linejoin="miter"/>
<polygon points="577.06,371.2 579.56,375.5 574.56,375.5" fill="none" stroke="#000" stroke-width="1.15" stroke-linejoin="miter"/>
<polygon points="576.91,372.8 579.41,377.1 574.41,377.1" fill="none" stroke="#000" stroke-width="1.15" stroke-linejoin="miter"/>
<polygon points="577.21,374.4 579.71,378.7 574.71,378.7" fill="none" stroke="#000" stroke-width="1.15" stroke-linejoin="miter"/>
<polygon points="577.6,376 580.1,380.3 575.1,380.3" fill="none" stroke="#000" stroke-width="1.15" stroke-linejoin="miter"/>
<polygon points="577.34,377.6 579.84,381.9 574.84,381.9" fill="none" stroke="#000" stroke-width="1.15" stroke-linejoin="miter"/>
<polygon points="576.95,379.2 579.45,383.5 574.45,383.5" fill="none" stroke="#000" stroke-width="1.15" stroke-linejoin="miter"/>
<polygon points="577.51,380.8 580.01,385.1 575.01,385.1" fill="none" stroke="#000" stroke-width="1.15" stroke-linejoin="miter"/>
<polygon points="577.44,382.4 579.94,386.7 574.94,386.7" fill="none" stroke="#000" stroke-width="1.15" stroke-linejoin="miter"/>
<polygon points="577.39,384 579.89,388.3 574.89,388.3" fill="none" stroke="#000" stroke-width="1.15" stroke-linejoin="miter"/>
<polygon points="577.53,385.6 580.03,389.9 575.03,389.9" fill="none" stroke="#000" stroke-width="1.15" stroke-linejoin="miter"/>
<polygon points="577.41,387.2 579.91,391.5 574.91,391.5" fill="none" stroke="#000" stroke-width="1.15" stroke-linejoin="miter"/>
<polygon points="577.43,388.8 579.93,393.1 574.93,393.1" fill="none" stroke="#000" stroke-width="1.15" stroke-linejoin="miter"/>
<polygon points="577.08,390.4 579.58,394.7 574.58,394.7" fill="none" stroke="#000" stroke-width="1.15" stroke-linejoin="miter"/>
<polygon points="577.58,392 580.08,396.3 575.08,396.3" fill="none" stroke="#000" stroke-width="1.15" stroke-linejoin="miter"/>
<polygon points="577.57,393.6 580.07,397.9 575.07,397.9" fill="none" stroke="#000" stroke-width="1.15" stroke-linejoin="miter"/>
<polygon points="576.93,395.2 579.43,399.5 574.43,399.5" fill="none" stroke="#000" stroke-width="1.15" stroke-linejoin="miter"/>
<polygon points="577.4,396.8 579.9,401.1 574.9,401.1" fill="none" stroke="#000" stroke-width="1.15" stroke-linejoin="miter"/>
<polygon points="577.37,398.4 579.87,402.7 574.87,402.7" fill="none" stroke="#000" stroke-width="1.15" stroke-linejoin="miter"/>
<polygon points="577.17,400 579.67,404.3 574.67,404.3" fill="none" stroke="#000" stroke-width="1.15" stroke-linejoin="miter"/>
<polygon points="577.22,401.6 579.72,405.9 574.72,405.9" fill="none" stroke="#000" stroke-width="1.15" stroke-linejoin="miter"/>
<polygon points="577.19,403.2 579.69,407.5 574.69,407.5" fill="none" stroke="#000" stroke-width="1.15" stroke-linejoin="miter"/>
<polygon points="629.81,345.67 632.31,349.97 627.31,349.97" fill="none" stroke="#000" stroke-width="1.15" stroke-linejoin="miter"/>
<polygon points="621.19,356.39 623.69,360.69 618.69,360.69" fill="none" stroke="#000" stroke-width="1.15" stroke-linejoin="miter"/>
<polygon points="629.57,347.66 632.07,351.96 627.07,351.96" fill="none" stroke="#000" stroke-width="1.15" stroke-linejoin="miter"/>
<polygon points="614.26,361.55 616.76,365.85 611.76,365.85" fill="none" stroke="#000" stroke-width="1.15" stroke-linejoin="miter"/>
<polygon points="633.89,350.9 636.39,355.2 631.39,355.2" fill="none" stroke="#000" stroke-width="1.15" stroke-linejoin="miter"/>
<polygon points="623.62,349.85 626.12,354.15 621.12,354.15" fill="none" stroke="#000" stroke-width="1.15" stroke-linejoin="miter"/>
<polygon points="608.38,368.62 610.88,372.92 605.88,372.92" fill="none" stroke="#000" stroke-width="1.15" stroke-linejoin="miter"/>
<polygon points="605.98,364.45 608.48,368.75 603.48,368.75" fill="none" stroke="#000" stroke-width="1.15" stroke-linejoin="miter"/>
<rect x="610.73" y="359.15" width="3.8" height="3.8" fill="none" stroke="#000" stroke-width="1.15" />
<polygon points="627.82,355.7 630.32,360 625.32,360" fill="none" stroke="#000" stroke-width="1.15" stroke-linejoin="miter"/>
<rect x="622.71" y="356.44" width="3.8" height="3.8" fill="none" stroke="#000" stroke-width="1.15" />
<rect x="593.52" y="371.52" width="3.8" height="3.8" fill="none" stroke="#000" stroke-width="1.15" />
<rect x="603.37" y="367.46" width="3.8" height="3.8" fill="none" stroke="#000" stroke-width="1.15" />
<polygon points="627.72,358.36 630.22,362.66 625.22,362.66" fill="none" stroke="#000" stroke-width="1.15" stroke-linejoin="miter"/>
<rect x="627.41" y="352.06" width="3.8" height="3.8" fill="none" stroke="#000" stroke-width="1.15" />
<rect x="610.17" y="364.47" width="3.8" height="3.8" fill="none" stroke="#000" stroke-width="1.15" />
<rect x="593.27" y="371.3" width="3.8" height="3.8" fill="none" stroke="#000" stroke-width="1.15" />
<rect x="595.75" y="372.92" width="3.8" height="3.8" fill="none" stroke="#000" stroke-width="1.15" />
<polygon points="594.45,372.58 596.95,376.88 591.95,376.88" fill="none" stroke="#000" stroke-width="1.15" stroke-linejoin="miter"/>
<polygon points="598.52,369.59 601.02,373.89 596.02,373.89" fill="none" stroke="#000" stroke-width="1.15" stroke-linejoin="miter"/>
<rect x="622.3" y="354.92" width="3.8" height="3.8" fill="none" stroke="#000" stroke-width="1.15" />
<polygon points="626.76,353.01 629.26,357.31 624.26,357.31" fill="none" stroke="#000" stroke-width="1.15" stroke-linejoin="miter"/>
<rect x="599.04" y="371.83" width="3.8" height="3.8" fill="none" stroke="#000" stroke-width="1.15" />
<polygon points="605.7,366.43 608.2,370.73 603.2,370.73" fill="none" stroke="#000" stroke-width="1.15" stroke-linejoin="miter"/>
<rect x="590.71" y="369.54" width="3.8" height="3.8" fill="none" stroke="#000" stroke-width="1.15" />
<polygon points="632,351.44 634.5,355.74 629.5,355.74" fill="none" stroke="#000" stroke-width="1.15" stroke-linejoin="miter"/>
<polygon points="629.23,350.62 631.73,354.92 626.73,354.92" fill="none" stroke="#000" stroke-width="1.15" stroke-linejoin="miter"/>
<polygon points="595.93,368.58 598.43,372.88 593.43,372.88" fill="none" stroke="#000" stroke-width="1.15" stroke-linejoin="miter"/>
<polygon points="630.89,355.63 633.39,359.93 628.39,359.93" fill="none" stroke="#000" stroke-width="1.15" stroke-linejoin="miter"/>
<polygon points="615.53,360.64 618.03,364.94 613.03,364.94" fill="none" stroke="#000" stroke-width="1.15" stroke-linejoin="miter"/>
<polygon points="612.62,358.82 615.12,363.12 610.12,363.12" fill="none" stroke="#000" stroke-width="1.15" stroke-linejoin="miter"/>
<polygon points="606.63,370.52 609.13,374.82 604.13,374.82" fill="none" stroke="#000" stroke-width="1.15" stroke-linejoin="miter"/>
<rect x="617.93" y="355.44" width="3.8" height="3.8" fill="none" stroke="#000" stroke-width="1.15" />
<polygon points="600.92,361.7 603.42,366 598.42,366" fill="none" stroke="#000" stroke-width="1.15" stroke-linejoin="miter"/>
<rect x="599.8" y="372.17" width="3.8" height="3.8" fill="none" stroke="#000" stroke-width="1.15" />
<polygon points="636.23,349.64 638.73,353.94 633.73,353.94" fill="none" stroke="#000" stroke-width="1.15" stroke-linejoin="miter"/>
<polygon points="623.87,355.86 626.37,360.16 621.37,360.16" fill="none" stroke="#000" stroke-width="1.15" stroke-linejoin="miter"/>
<polygon points="619.87,357.76 622.37,362.06 617.37,362.06" fill="none" stroke="#000" stroke-width="1.15" stroke-linejoin="miter"/>
<rect x="600.89" y="364.93" width="3.8" height="3.8" fill="none" stroke="#000" stroke-width="1.15" />
<polygon points="600.5,370.65 603,374.95 598,374.95" fill="none" stroke="#000" stroke-width="1.15" stroke-linejoin="miter"/>
<polygon points="612.18,365.49 614.68,369.79 609.68,369.79" fill="none" stroke="#000" stroke-width="1.15" stroke-linejoin="miter"/>
<rect x="597.13" y="373.39" width="3.8" height="3.8" fill="none" stroke="#000" stroke-width="1.15" />
<polygon points="601.15,368.82 603.65,373.12 598.65,373.12" fill="none" stroke="#000" stroke-width="1.15" stroke-linejoin="miter"/>
<polygon points="613.38,363.2 615.88,367.5 610.88,367.5" fill="none" stroke="#000" stroke-width="1.15" stroke-linejoin="miter"/>
<polygon points="605.11,372.44 607.61,376.74 602.61,376.74" fill="none" stroke="#000" stroke-width="1.15" stroke-linejoin="miter"/>
<rect x="607.54" y="359.89" width="3.8" height="3.8" fill="none" stroke="#000" stroke-width="1.15" />
<polygon points="619.1,360.58 621.6,364.88 616.6,364.88" fill="none" stroke="#000" stroke-width="1.15" stroke-linejoin="miter"/>
<polygon points="632.51,350.51 635.01,354.81 630.01,354.81" fill="none" stroke="#000" stroke-width="1.15" stroke-linejoin="miter"/>
<polygon points="605.89,359.16 608.39,363.46 603.39,363.46" fill="none" stroke="#000" stroke-width="1.15" stroke-linejoin="miter"/>
<polygon points="605.23,365.32 607.73,369.62 602.73,369.62" fill="none" stroke="#000" stroke-width="1.15" stroke-linejoin="miter"/>
<rect x="605.4" y="367.47" width="3.8" height="3.8" fill="none" stroke="#000" stroke-width="1.15" />
<rect x="603.41" y="364.42" width="3.8" height="3.8" fill="none" stroke="#000" stroke-width="1.15" />
<polygon points="629.24,355.41 631.74,359.71 626.74,359.71" fill="none" stroke="#000" stroke-width="1.15" stroke-linejoin="miter"/>
<rect x="600.94" y="369.59" width="3.8" height="3.8" fill="none" stroke="#000" stroke-width="1.15" />
<rect x="592.83" y="375.45" width="3.8" height="3.8" fill="none" stroke="#000" stroke-width="1.15" />
<polygon points="602.79,367.97 605.29,372.27 600.29,372.27" fill="none" stroke="#000" stroke-width="1.15" stroke-linejoin="miter"/>
<polygon points="600.33,366.46 602.83,370.76 597.83,370.76" fill="none" stroke="#000" stroke-width="1.15" stroke-linejoin="miter"/>
<polygon points="598.72,368.8 601.22,373.1 596.22,373.1" fill="none" stroke="#000" stroke-width="1.15" stroke-linejoin="miter"/>
<rect x="608.58" y="364.5" width="3.8" height="3.8" fill="none" stroke="#000" stroke-width="1.15" />
<polygon points="619.77,358.32 622.27,362.62 617.27,362.62" fill="none" stroke="#000" stroke-width="1.15" stroke-linejoin="miter"/>
<rect x="620.37" y="360.62" width="3.8" height="3.8" fill="none" stroke="#000" stroke-width="1.15" />
<polygon points="618.88,356.7 621.38,361 616.38,361" fill="none" stroke="#000" stroke-width="1.15" stroke-linejoin="miter"/>
<polygon points="625.81,353.05 628.31,357.35 623.31,357.35" fill="none" stroke="#000" stroke-width="1.15" stroke-linejoin="miter"/>
<polygon points="632.22,346.34 634.72,350.64 629.72,350.64" fill="none" stroke="#000" stroke-width="1.15" stroke-linejoin="miter"/>
<polygon points="626.77,352.61 629.27,356.91 624.27,356.91" fill="none" stroke="#000" stroke-width="1.15" stroke-linejoin="miter"/>
<polygon points="625.21,357.53 627.71,361.83 622.71,361.83" fill="none" stroke="#000" stroke-width="1.15" stroke-linejoin="miter"/>
<polygon points="633.12,350.44 635.62,354.74 630.62,354.74" fill="none" stroke="#000" stroke-width="1.15" stroke-linejoin="miter"/>
<polygon points="599.05,367.76 601.55,372.06 596.55,372.06" fill="none" stroke="#000" stroke-width="1.15" stroke-linejoin="miter"/>
<rect x="613.88" y="358.69" width="3.8" height="3.8" fill="none" stroke="#000" stroke-width="1.15" />
<rect x="614.23" y="355.72" width="3.8" height="3.8" fill="none" stroke="#000" stroke-width="1.15" />
<polygon points="597.13,372.67 599.63,376.97 594.63,376.97" fill="none" stroke="#000" stroke-width="1.15" stroke-linejoin="miter"/>
<rect x="630.7" y="353.28" width="3.8" height="3.8" fill="none" stroke="#000" stroke-width="1.15" />
<rect x="628.8" y="348.92" width="3.8" height="3.8" fill="none" stroke="#000" stroke-width="1.15" />
<polygon points="596.67,366.47 599.17,370.77 594.17,370.77" fill="none" stroke="#000" stroke-width="1.15" stroke-linejoin="miter"/>
<polygon points="609.12,362.17 611.62,366.47 606.62,366.47" fill="none" stroke="#000" stroke-width="1.15" stroke-linejoin="miter"/>
<polygon points="609.24,357.8 611.74,362.1 606.74,362.1" fill="none" stroke="#000" stroke-width="1.15" stroke-linejoin="miter"/>
<polygon points="595.05,365.37 597.55,369.67 592.55,369.67" fill="none" stroke="#000" stroke-width="1.15" stroke-linejoin="miter"/>
<polygon points="596.65,369.5 599.15,373.8 594.15,373.8" fill="none" stroke="#000" stroke-width="1.15" stroke-linejoin="miter"/>
<polygon points="623.33,354.84 625.83,359.14 620.83,359.14" fill="none" stroke="#000" stroke-width="1.15" stroke-linejoin="miter"/>
<polygon points="635.96,353.66 638.46,357.96 633.46,357.96" fill="none" stroke="#000" stroke-width="1.15" stroke-linejoin="miter"/>
<polygon points="612.66,366.71 615.16,371.01 610.16,371.01" fill="none" stroke="#000" stroke-width="1.15" stroke-linejoin="miter"/>
<rect x="611.05" y="361.77" width="3.8" height="3.8" fill="none" stroke="#000" stroke-width="1.15" />
<polygon points="625.85,350.04 628.35,354.34 623.35,354.34" fill="none" stroke="#000" stroke-width="1.15" stroke-linejoin="miter"/>
<polygon points="616.26,362.61 618.76,366.91 613.76,366.91" fill="none" stroke="#000" stroke-width="1.15" stroke-linejoin="miter"/>
<polygon points="604.87,366.22 607.37,370.52 602.37,370.52" fill="none" stroke="#000" stroke-width="1.15" stroke-linejoin="miter"/>
<polygon points="625.14,358.76 627.64,363.06 622.64,363.06" fill="none" stroke="#000" stroke-width="1.15" stroke-linejoin="miter"/>
<rect x="604.68" y="361.37" width="3.8" height="3.8" fill="none" stroke="#000" stroke-width="1.15" />
<polygon points="624.8,352.87 627.3,357.17 622.3,357.17" fill="none" stroke="#000" stroke-width="1.15" stroke-linejoin="miter"/>
<polygon points="616.7,361.19 619.2,365.49 614.2,365.49" fill="none" stroke="#000" stroke-width="1.15" stroke-linejoin="miter"/>
<rect x="634.77" y="352.5" width="3.8" height="3.8" fill="none" stroke="#000" stroke-width="1.15" />
<polygon points="603.76,360.7 606.26,365 601.26,365" fill="none" stroke="#000" stroke-width="1.15" stroke-linejoin="miter"/>
<rect x="618.4" y="356.52" width="3.8" height="3.8" fill="none" stroke="#000" stroke-width="1.15" />
<polygon points="596.1,376.08 598.6,380.38 593.6,380.38" fill="none" stroke="#000" stroke-width="1.15" stroke-linejoin="miter"/>
<rect x="628.81" y="349.49" width="3.8" height="3.8" fill="none" stroke="#000" stroke-width="1.15" />
<polygon points="607.61,359.75 610.11,364.05 605.11,364.05" fill="none" stroke="#000" stroke-width="1.15" stroke-linejoin="miter"/>
<rect x="575.6" y="419.4" width="3.8" height="3.8" fill="none" stroke="#000" stroke-width="1.15" />
<rect x="606.8" y="387.9" width="3.8" height="3.8" fill="none" stroke="#000" stroke-width="1.15" />
<rect x="592.4" y="366.3" width="3.8" height="3.8" fill="none" stroke="#000" stroke-width="1.15" />
<rect x="591.3" y="373.5" width="3.8" height="3.8" fill="none" stroke="#000" stroke-width="1.15" />
<polygon points="652.9,332.9 655.4,337.2 650.4,337.2" fill="none" stroke="#000" stroke-width="1.15" stroke-linejoin="miter"/>
<polygon points="645.7,332.9 648.2,337.2 643.2,337.2" fill="none" stroke="#000" stroke-width="1.15" stroke-linejoin="miter"/>
<polygon points="641,338 643.5,342.3 638.5,342.3" fill="none" stroke="#000" stroke-width="1.15" stroke-linejoin="miter"/>
<polygon points="646.2,352.4 648.7,356.7 643.7,356.7" fill="none" stroke="#000" stroke-width="1.15" stroke-linejoin="miter"/>
<polygon points="638,363.7 640.5,368 635.5,368" fill="none" stroke="#000" stroke-width="1.15" stroke-linejoin="miter"/>
<polygon points="634.2,373 636.7,377.3 631.7,377.3" fill="none" stroke="#000" stroke-width="1.15" stroke-linejoin="miter"/>
<polygon points="612.8,377.1 615.3,381.4 610.3,381.4" fill="none" stroke="#000" stroke-width="1.15" stroke-linejoin="miter"/>
<polygon points="603,393 605.5,397.3 600.5,397.3" fill="none" stroke="#000" stroke-width="1.15" stroke-linejoin="miter"/>
<polygon points="599.4,380.2 601.9,384.5 596.9,384.5" fill="none" stroke="#000" stroke-width="1.15" stroke-linejoin="miter"/>
<polygon points="605.6,380.2 608.1,384.5 603.1,384.5" fill="none" stroke="#000" stroke-width="1.15" stroke-linejoin="miter"/>
<polygon points="620,368.9 622.5,373.2 617.5,373.2" fill="none" stroke="#000" stroke-width="1.15" stroke-linejoin="miter"/>
<polygon points="626.1,368.9 628.6,373.2 623.6,373.2" fill="none" stroke="#000" stroke-width="1.15" stroke-linejoin="miter"/>
<polygon points="626.1,363.7 628.6,368 623.6,368" fill="none" stroke="#000" stroke-width="1.15" stroke-linejoin="miter"/>
<polygon points="577.2,365.6 579.7,369.9 574.7,369.9" fill="none" stroke="#000" stroke-width="1.15" stroke-linejoin="miter"/>
<g clip-path="url(#cp307)">
<line x1="485.6" y1="477.12" x2="676.3" y2="307.7" stroke="#ff0000" stroke-width="1.7" />
</g>
<rect x="485.6" y="307.7" width="287.9" height="211.6" fill="none" stroke="#222" stroke-width="1.2" />
<line x1="480.2" y1="511.5" x2="485.6" y2="511.5" stroke="#333" stroke-width="1.1" />
<text x="475" y="514.94" font-family="Liberation Sans, Arial, sans-serif" font-size="9.6" font-weight="normal" text-anchor="end" fill="#333" >0.0</text>
<line x1="496.4" y1="519.3" x2="496.4" y2="525.3" stroke="#333" stroke-width="1.1" />
<text x="496.4" y="539.14" font-family="Liberation Sans, Arial, sans-serif" font-size="9.6" font-weight="normal" text-anchor="middle" fill="#333" >0.0</text>
<line x1="480.2" y1="491.9" x2="485.6" y2="491.9" stroke="#333" stroke-width="1.1" />
<text x="475" y="495.34" font-family="Liberation Sans, Arial, sans-serif" font-size="9.6" font-weight="normal" text-anchor="end" fill="#333" >0.5</text>
<line x1="523.05" y1="519.3" x2="523.05" y2="525.3" stroke="#333" stroke-width="1.1" />
<text x="523.05" y="539.14" font-family="Liberation Sans, Arial, sans-serif" font-size="9.6" font-weight="normal" text-anchor="middle" fill="#333" >0.5</text>
<line x1="480.2" y1="472.3" x2="485.6" y2="472.3" stroke="#333" stroke-width="1.1" />
<text x="475" y="475.74" font-family="Liberation Sans, Arial, sans-serif" font-size="9.6" font-weight="normal" text-anchor="end" fill="#333" >1.0</text>
<line x1="549.7" y1="519.3" x2="549.7" y2="525.3" stroke="#333" stroke-width="1.1" />
<text x="549.7" y="539.14" font-family="Liberation Sans, Arial, sans-serif" font-size="9.6" font-weight="normal" text-anchor="middle" fill="#333" >1.0</text>
<line x1="480.2" y1="452.7" x2="485.6" y2="452.7" stroke="#333" stroke-width="1.1" />
<text x="475" y="456.14" font-family="Liberation Sans, Arial, sans-serif" font-size="9.6" font-weight="normal" text-anchor="end" fill="#333" >1.5</text>
<line x1="576.35" y1="519.3" x2="576.35" y2="525.3" stroke="#333" stroke-width="1.1" />
<text x="576.35" y="539.14" font-family="Liberation Sans, Arial, sans-serif" font-size="9.6" font-weight="normal" text-anchor="middle" fill="#333" >1.5</text>
<line x1="480.2" y1="433.1" x2="485.6" y2="433.1" stroke="#333" stroke-width="1.1" />
<text x="475" y="436.54" font-family="Liberation Sans, Arial, sans-serif" font-size="9.6" font-weight="normal" text-anchor="end" fill="#333" >2.0</text>
<line x1="603" y1="519.3" x2="603" y2="525.3" stroke="#333" stroke-width="1.1" />
<text x="603" y="539.14" font-family="Liberation Sans, Arial, sans-serif" font-size="9.6" font-weight="normal" text-anchor="middle" fill="#333" >2.0</text>
<line x1="480.2" y1="413.5" x2="485.6" y2="413.5" stroke="#333" stroke-width="1.1" />
<text x="475" y="416.94" font-family="Liberation Sans, Arial, sans-serif" font-size="9.6" font-weight="normal" text-anchor="end" fill="#333" >2.5</text>
<line x1="629.65" y1="519.3" x2="629.65" y2="525.3" stroke="#333" stroke-width="1.1" />
<text x="629.65" y="539.14" font-family="Liberation Sans, Arial, sans-serif" font-size="9.6" font-weight="normal" text-anchor="middle" fill="#333" >2.5</text>
<line x1="480.2" y1="393.9" x2="485.6" y2="393.9" stroke="#333" stroke-width="1.1" />
<text x="475" y="397.34" font-family="Liberation Sans, Arial, sans-serif" font-size="9.6" font-weight="normal" text-anchor="end" fill="#333" >3.0</text>
<line x1="656.3" y1="519.3" x2="656.3" y2="525.3" stroke="#333" stroke-width="1.1" />
<text x="656.3" y="539.14" font-family="Liberation Sans, Arial, sans-serif" font-size="9.6" font-weight="normal" text-anchor="middle" fill="#333" >3.0</text>
<line x1="480.2" y1="374.3" x2="485.6" y2="374.3" stroke="#333" stroke-width="1.1" />
<text x="475" y="377.74" font-family="Liberation Sans, Arial, sans-serif" font-size="9.6" font-weight="normal" text-anchor="end" fill="#333" >3.5</text>
<line x1="682.95" y1="519.3" x2="682.95" y2="525.3" stroke="#333" stroke-width="1.1" />
<text x="682.95" y="539.14" font-family="Liberation Sans, Arial, sans-serif" font-size="9.6" font-weight="normal" text-anchor="middle" fill="#333" >3.5</text>
<line x1="480.2" y1="354.7" x2="485.6" y2="354.7" stroke="#333" stroke-width="1.1" />
<text x="475" y="358.14" font-family="Liberation Sans, Arial, sans-serif" font-size="9.6" font-weight="normal" text-anchor="end" fill="#333" >4.0</text>
<line x1="709.6" y1="519.3" x2="709.6" y2="525.3" stroke="#333" stroke-width="1.1" />
<text x="709.6" y="539.14" font-family="Liberation Sans, Arial, sans-serif" font-size="9.6" font-weight="normal" text-anchor="middle" fill="#333" >4.0</text>
<line x1="480.2" y1="335.1" x2="485.6" y2="335.1" stroke="#333" stroke-width="1.1" />
<text x="475" y="338.54" font-family="Liberation Sans, Arial, sans-serif" font-size="9.6" font-weight="normal" text-anchor="end" fill="#333" >4.5</text>
<line x1="736.25" y1="519.3" x2="736.25" y2="525.3" stroke="#333" stroke-width="1.1" />
<text x="736.25" y="539.14" font-family="Liberation Sans, Arial, sans-serif" font-size="9.6" font-weight="normal" text-anchor="middle" fill="#333" >4.5</text>
<line x1="480.2" y1="315.5" x2="485.6" y2="315.5" stroke="#333" stroke-width="1.1" />
<text x="475" y="318.94" font-family="Liberation Sans, Arial, sans-serif" font-size="9.6" font-weight="normal" text-anchor="end" fill="#333" >5.0</text>
<line x1="762.9" y1="519.3" x2="762.9" y2="525.3" stroke="#333" stroke-width="1.1" />
<text x="762.9" y="539.14" font-family="Liberation Sans, Arial, sans-serif" font-size="9.6" font-weight="normal" text-anchor="middle" fill="#333" >5.0</text>
<text x="732" y="561.2" font-family="Liberation Sans, Arial, sans-serif" font-size="9.3" font-weight="normal" text-anchor="end" fill="#222" textLength="205" lengthAdjust="spacingAndGlyphs">Palivizumab competitive ELISA conc (µg/mL), log10</text>
<text transform="translate(451.8,411.5) rotate(-90)" font-family="Liberation Sans, Arial, sans-serif" font-size="9.1" text-anchor="middle" fill="#222">Anti−F IgG EUs, log10</text>
<rect x="504.3" y="316.6" width="115.3" height="20.7" fill="#fff" stroke="#111" stroke-width="1.1" />
<line x1="507.2" y1="323.5" x2="525.7" y2="323.5" stroke="#ff0000" stroke-width="1.1" />
<line x1="507.6" y1="330.9" x2="525.7" y2="330.9" stroke="#0000ff" stroke-width="1.4" stroke-dasharray="3.4,3.6"/>
<text x="528.8" y="326.2" font-family="Liberation Sans, Arial, sans-serif" font-size="7.6" font-weight="normal" text-anchor="start" fill="#111" stroke="#111" stroke-width="0.3" stroke-linejoin="round" textLength="91" lengthAdjust="spacingAndGlyphs">Observed Concordance Line</text>
<text x="528.8" y="333.6" font-family="Liberation Sans, Arial, sans-serif" font-size="7.6" font-weight="normal" text-anchor="start" fill="#111" stroke="#111" stroke-width="0.3" stroke-linejoin="round" textLength="83" lengthAdjust="spacingAndGlyphs">Perfect Concordance Line</text>
<rect x="651.4" y="422.8" width="4.4" height="4.4" fill="none" stroke="#111" stroke-width="1.1" />
<polygon points="653.6,430 656.4,435 650.8,435" fill="none" stroke="#111" stroke-width="1.1"/>
<text x="659.8" y="427.6" font-family="Liberation Sans, Arial, sans-serif" font-size="7.3" font-weight="bold" text-anchor="start" fill="#222" textLength="71.3" lengthAdjust="spacingAndGlyphs">Day 0: Pre-vaccination</text>
<text x="659.8" y="435.4" font-family="Liberation Sans, Arial, sans-serif" font-size="7.3" font-weight="bold" text-anchor="start" fill="#222" textLength="77" lengthAdjust="spacingAndGlyphs">Day 28: Unadj. Vaccines</text>
<text x="633.6" y="450.9" font-family="Liberation Sans, Arial, sans-serif" font-size="7.3" font-weight="bold" text-anchor="start" fill="#222" textLength="82.8" lengthAdjust="spacingAndGlyphs">Concordance Slope = 1.21</text>
<line x1="77.8" y1="487.3" x2="81.4" y2="487.3" stroke="#888" stroke-width="1.2" />
<text x="72" y="490.59" font-family="Liberation Sans, Arial, sans-serif" font-size="9.2" font-weight="bold" text-anchor="end" fill="#000" stroke="#000" stroke-width="0.45" stroke-linejoin="round" >0</text>
<line x1="77.8" y1="460.13" x2="81.4" y2="460.13" stroke="#888" stroke-width="1.2" />
<text x="72" y="463.42" font-family="Liberation Sans, Arial, sans-serif" font-size="9.2" font-weight="bold" text-anchor="end" fill="#000" stroke="#000" stroke-width="0.45" stroke-linejoin="round" >500</text>
<line x1="77.8" y1="432.96" x2="81.4" y2="432.96" stroke="#888" stroke-width="1.2" />
<text x="72" y="436.25" font-family="Liberation Sans, Arial, sans-serif" font-size="9.2" font-weight="bold" text-anchor="end" fill="#000" stroke="#000" stroke-width="0.45" stroke-linejoin="round" >1000</text>
<line x1="77.8" y1="405.79" x2="81.4" y2="405.79" stroke="#888" stroke-width="1.2" />
<text x="72" y="409.08" font-family="Liberation Sans, Arial, sans-serif" font-size="9.2" font-weight="bold" text-anchor="end" fill="#000" stroke="#000" stroke-width="0.45" stroke-linejoin="round" >1500</text>
<line x1="77.8" y1="378.62" x2="81.4" y2="378.62" stroke="#888" stroke-width="1.2" />
<text x="72" y="381.91" font-family="Liberation Sans, Arial, sans-serif" font-size="9.2" font-weight="bold" text-anchor="end" fill="#000" stroke="#000" stroke-width="0.45" stroke-linejoin="round" >2000</text>
<line x1="77.8" y1="351.45" x2="81.4" y2="351.45" stroke="#888" stroke-width="1.2" />
<text x="72" y="354.74" font-family="Liberation Sans, Arial, sans-serif" font-size="9.2" font-weight="bold" text-anchor="end" fill="#000" stroke="#000" stroke-width="0.45" stroke-linejoin="round" >2500</text>
<line x1="77.8" y1="324.28" x2="81.4" y2="324.28" stroke="#888" stroke-width="1.2" />
<text x="72" y="327.57" font-family="Liberation Sans, Arial, sans-serif" font-size="9.2" font-weight="bold" text-anchor="end" fill="#000" stroke="#000" stroke-width="0.45" stroke-linejoin="round" >3000</text>
<line x1="77.8" y1="297.11" x2="81.4" y2="297.11" stroke="#888" stroke-width="1.2" />
<text x="72" y="300.4" font-family="Liberation Sans, Arial, sans-serif" font-size="9.2" font-weight="bold" text-anchor="end" fill="#000" stroke="#000" stroke-width="0.45" stroke-linejoin="round" >3500</text>
<line x1="81.4" y1="487.4" x2="81.4" y2="490.9" stroke="#999" stroke-width="1.1" />
<line x1="130.03" y1="487.4" x2="130.03" y2="490.9" stroke="#999" stroke-width="1.1" />
<line x1="178.67" y1="487.4" x2="178.67" y2="490.9" stroke="#999" stroke-width="1.1" />
<line x1="227.3" y1="487.4" x2="227.3" y2="490.9" stroke="#999" stroke-width="1.1" />
<line x1="275.93" y1="487.4" x2="275.93" y2="490.9" stroke="#999" stroke-width="1.1" />
<line x1="324.57" y1="487.4" x2="324.57" y2="490.9" stroke="#999" stroke-width="1.1" />
<line x1="373.2" y1="487.4" x2="373.2" y2="490.9" stroke="#999" stroke-width="1.1" />
<text x="105.72" y="502.52" font-family="Liberation Sans, Arial, sans-serif" font-size="9" font-weight="bold" text-anchor="middle" fill="#000" stroke="#000" stroke-width="0.4" stroke-linejoin="round" >0</text>
<text x="154.35" y="502.52" font-family="Liberation Sans, Arial, sans-serif" font-size="9" font-weight="bold" text-anchor="middle" fill="#000" stroke="#000" stroke-width="0.4" stroke-linejoin="round" >28</text>
<text x="202.98" y="502.52" font-family="Liberation Sans, Arial, sans-serif" font-size="9" font-weight="bold" text-anchor="middle" fill="#000" stroke="#000" stroke-width="0.4" stroke-linejoin="round" >56</text>
<text x="251.62" y="502.52" font-family="Liberation Sans, Arial, sans-serif" font-size="9" font-weight="bold" text-anchor="middle" fill="#000" stroke="#000" stroke-width="0.4" stroke-linejoin="round" >119</text>
<text x="300.25" y="502.52" font-family="Liberation Sans, Arial, sans-serif" font-size="9" font-weight="bold" text-anchor="middle" fill="#000" stroke="#000" stroke-width="0.4" stroke-linejoin="round" >182</text>
<text x="348.88" y="502.52" font-family="Liberation Sans, Arial, sans-serif" font-size="9" font-weight="bold" text-anchor="middle" fill="#000" stroke="#000" stroke-width="0.4" stroke-linejoin="round" >364</text>
<text x="227.3" y="517.41" font-family="Liberation Sans, Arial, sans-serif" font-size="9.8" font-weight="bold" text-anchor="middle" fill="#000" stroke="#000" stroke-width="0.4" stroke-linejoin="round" >Study Day</text>
<text transform="translate(45.9,391.9) rotate(-90)" font-family="Liberation Sans, Arial, sans-serif" font-size="9.75" font-weight="bold" text-anchor="middle" fill="#000" stroke="#000" stroke-width="0.4" stroke-linejoin="round">Site II Peptide ELISA GMT</text>
<line x1="105.72" y1="468.7" x2="105.72" y2="483.5" stroke="#333" stroke-width="1.6" />
<line x1="103.12" y1="468.7" x2="108.32" y2="468.7" stroke="#333" stroke-width="1.3" />
<line x1="103.12" y1="471.8" x2="108.32" y2="471.8" stroke="#333" stroke-width="1.3" />
<line x1="103.12" y1="474.5" x2="108.32" y2="474.5" stroke="#333" stroke-width="1.3" />
<line x1="103.12" y1="478" x2="108.32" y2="478" stroke="#333" stroke-width="1.3" />
<line x1="103.12" y1="481" x2="108.32" y2="481" stroke="#333" stroke-width="1.3" />
<line x1="103.12" y1="483.5" x2="108.32" y2="483.5" stroke="#333" stroke-width="1.3" />
<line x1="154.35" y1="313.4" x2="154.35" y2="481.7" stroke="#6e6e6e" stroke-width="1.6" />
<line x1="151.75" y1="313.4" x2="156.95" y2="313.4" stroke="#6e6e6e" stroke-width="1.3" />
<line x1="151.75" y1="348" x2="156.95" y2="348" stroke="#6e6e6e" stroke-width="1.3" />
<line x1="151.75" y1="386.8" x2="156.95" y2="386.8" stroke="#6e6e6e" stroke-width="1.3" />
<line x1="151.75" y1="442" x2="156.95" y2="442" stroke="#6e6e6e" stroke-width="1.3" />
<line x1="151.75" y1="452.9" x2="156.95" y2="452.9" stroke="#6e6e6e" stroke-width="1.3" />
<line x1="151.75" y1="464.6" x2="156.95" y2="464.6" stroke="#6e6e6e" stroke-width="1.3" />
<line x1="151.75" y1="468.2" x2="156.95" y2="468.2" stroke="#6e6e6e" stroke-width="1.3" />
<line x1="151.75" y1="474" x2="156.95" y2="474" stroke="#6e6e6e" stroke-width="1.3" />
<line x1="151.75" y1="481.7" x2="156.95" y2="481.7" stroke="#6e6e6e" stroke-width="1.3" />
<line x1="202.98" y1="305.7" x2="202.98" y2="481.1" stroke="#6e6e6e" stroke-width="1.6" />
<line x1="200.38" y1="305.7" x2="205.58" y2="305.7" stroke="#6e6e6e" stroke-width="1.3" />
<line x1="200.38" y1="367.9" x2="205.58" y2="367.9" stroke="#6e6e6e" stroke-width="1.3" />
<line x1="200.38" y1="376.9" x2="205.58" y2="376.9" stroke="#6e6e6e" stroke-width="1.3" />
<line x1="200.38" y1="412" x2="205.58" y2="412" stroke="#6e6e6e" stroke-width="1.3" />
<line x1="200.38" y1="460.4" x2="205.58" y2="460.4" stroke="#6e6e6e" stroke-width="1.3" />
<line x1="200.38" y1="471.8" x2="205.58" y2="471.8" stroke="#6e6e6e" stroke-width="1.3" />
<line x1="200.38" y1="473.6" x2="205.58" y2="473.6" stroke="#6e6e6e" stroke-width="1.3" />
<line x1="200.38" y1="481.1" x2="205.58" y2="481.1" stroke="#6e6e6e" stroke-width="1.3" />
<line x1="251.62" y1="374.4" x2="251.62" y2="481.3" stroke="#222" stroke-width="1.6" />
<line x1="249.02" y1="374.4" x2="254.22" y2="374.4" stroke="#222" stroke-width="1.3" />
<line x1="249.02" y1="398" x2="254.22" y2="398" stroke="#222" stroke-width="1.3" />
<line x1="249.02" y1="412.4" x2="254.22" y2="412.4" stroke="#222" stroke-width="1.3" />
<line x1="249.02" y1="433" x2="254.22" y2="433" stroke="#222" stroke-width="1.3" />
<line x1="249.02" y1="463.9" x2="254.22" y2="463.9" stroke="#222" stroke-width="1.3" />
<line x1="249.02" y1="468.4" x2="254.22" y2="468.4" stroke="#222" stroke-width="1.3" />
<line x1="249.02" y1="473.7" x2="254.22" y2="473.7" stroke="#222" stroke-width="1.3" />
<line x1="249.02" y1="481.3" x2="254.22" y2="481.3" stroke="#222" stroke-width="1.3" />
<line x1="300.25" y1="406.7" x2="300.25" y2="481.3" stroke="#6e6e6e" stroke-width="1.6" />
<line x1="297.65" y1="406.7" x2="302.85" y2="406.7" stroke="#6e6e6e" stroke-width="1.3" />
<line x1="297.65" y1="416" x2="302.85" y2="416" stroke="#6e6e6e" stroke-width="1.3" />
<line x1="297.65" y1="430" x2="302.85" y2="430" stroke="#6e6e6e" stroke-width="1.3" />
<line x1="297.65" y1="459.7" x2="302.85" y2="459.7" stroke="#6e6e6e" stroke-width="1.3" />
<line x1="297.65" y1="469" x2="302.85" y2="469" stroke="#6e6e6e" stroke-width="1.3" />
<line x1="297.65" y1="472" x2="302.85" y2="472" stroke="#6e6e6e" stroke-width="1.3" />
<line x1="297.65" y1="481.3" x2="302.85" y2="481.3" stroke="#6e6e6e" stroke-width="1.3" />
<line x1="348.88" y1="435.7" x2="348.88" y2="481.3" stroke="#666" stroke-width="1.6" />
<line x1="346.28" y1="435.7" x2="351.48" y2="435.7" stroke="#666" stroke-width="1.3" />
<line x1="346.28" y1="438" x2="351.48" y2="438" stroke="#666" stroke-width="1.3" />
<line x1="346.28" y1="451.1" x2="351.48" y2="451.1" stroke="#666" stroke-width="1.3" />
<line x1="346.28" y1="460.8" x2="351.48" y2="460.8" stroke="#666" stroke-width="1.3" />
<line x1="346.28" y1="471" x2="351.48" y2="471" stroke="#666" stroke-width="1.3" />
<line x1="346.28" y1="474" x2="351.48" y2="474" stroke="#666" stroke-width="1.3" />
<line x1="346.28" y1="481.3" x2="351.48" y2="481.3" stroke="#666" stroke-width="1.3" />
<polyline points="105.72,481 154.35,418.1 202.98,431.8 251.62,441.9 300.25,451.1 348.88,460.2" fill="none" stroke="#000" stroke-width="1.9" stroke-linejoin="round" stroke-dasharray="3.9,1.8"/>
<polyline points="105.72,480.5 154.35,398.9 202.98,386.6 251.62,421.7 300.25,440.2 348.88,458.3" fill="none" stroke="#000" stroke-width="2.1" stroke-linejoin="round" />
<polyline points="105.72,483 154.35,446.6 202.98,452.9 251.62,460.2 300.25,464.5 348.88,468.4" fill="none" stroke="#ff0000" stroke-width="1.9" stroke-linejoin="round" stroke-dasharray="3.9,1.8"/>
<polyline points="105.72,482 154.35,439 202.98,430.9 251.62,449.5 300.25,457.3 348.88,468.4" fill="none" stroke="#ff0000" stroke-width="2.1" stroke-linejoin="round" />
<polyline points="105.72,478.6 154.35,478.6 202.98,478.6 251.62,478.6 300.25,478.6 348.88,478.6" fill="none" stroke="#4f81bd" stroke-width="1.8" stroke-linejoin="round" />
<line x1="81.4" y1="297.2" x2="373.2" y2="297.2" stroke="#000" stroke-width="1.8" />
<line x1="373.2" y1="297.2" x2="373.2" y2="487.4" stroke="#000" stroke-width="2" />
<line x1="81.4" y1="296.3" x2="81.4" y2="488.4" stroke="#808080" stroke-width="2.6" />
<line x1="81.4" y1="487.4" x2="374.2" y2="487.4" stroke="#808080" stroke-width="2.6" />
<line x1="299.6" y1="306.2" x2="325.2" y2="306.2" stroke="#4f81bd" stroke-width="2" />
<text x="327.7" y="309.39" font-family="Liberation Sans, Arial, sans-serif" font-size="8.9" font-weight="normal" text-anchor="start" fill="#000" stroke="#000" stroke-width="0.3" stroke-linejoin="round" letter-spacing="-0.1">Placebo</text>
<line x1="299.6" y1="317.6" x2="325.2" y2="317.6" stroke="#ff0000" stroke-width="2" />
<text x="327.7" y="320.79" font-family="Liberation Sans, Arial, sans-serif" font-size="8.9" font-weight="normal" text-anchor="start" fill="#000" stroke="#000" stroke-width="0.3" stroke-linejoin="round" letter-spacing="-0.1">60 µg+Al</text>
<line x1="299.6" y1="328.5" x2="325.2" y2="328.5" stroke="#ff0000" stroke-width="2" stroke-dasharray="3.9,1.8"/>
<text x="327.7" y="331.69" font-family="Liberation Sans, Arial, sans-serif" font-size="8.9" font-weight="normal" text-anchor="start" fill="#000" stroke="#000" stroke-width="0.3" stroke-linejoin="round" letter-spacing="-0.1">60 µg</text>
<line x1="299.6" y1="339.6" x2="325.2" y2="339.6" stroke="#000" stroke-width="2" />
<text x="327.7" y="342.79" font-family="Liberation Sans, Arial, sans-serif" font-size="8.9" font-weight="normal" text-anchor="start" fill="#000" stroke="#000" stroke-width="0.3" stroke-linejoin="round" letter-spacing="-0.1">90 µg+Al</text>
<line x1="299.6" y1="351" x2="325.2" y2="351" stroke="#000" stroke-width="2" stroke-dasharray="3.9,1.8"/>
<text x="327.7" y="354.19" font-family="Liberation Sans, Arial, sans-serif" font-size="8.9" font-weight="normal" text-anchor="start" fill="#000" stroke="#000" stroke-width="0.3" stroke-linejoin="round" letter-spacing="-0.1">90 µg</text>
<text x="36.6" y="570.28" font-family="Liberation Sans, Arial, sans-serif" font-size="11.4" font-weight="bold" text-anchor="middle" fill="#000" stroke="#000" stroke-width="0.45" stroke-linejoin="round" >Low Avidity</text>
<line x1="33.1" y1="572.4" x2="33.1" y2="747" stroke="#000" stroke-width="2" />
<polygon points="29.2,745.5 37.1,745.5 33.1,755.8" fill="#000"/>
<text x="38" y="772.58" font-family="Liberation Sans, Arial, sans-serif" font-size="11.4" font-weight="bold" text-anchor="middle" fill="#000" stroke="#000" stroke-width="0.45" stroke-linejoin="round" >High Avidity</text>
<text transform="translate(70.5,664.6) rotate(-90)" font-family="Liberation Sans, Arial, sans-serif" font-size="12.6" font-weight="bold" text-anchor="middle" fill="#000" stroke="#000" stroke-width="0.5" stroke-linejoin="round"><tspan font-size="13.4">k</tspan><tspan font-size="9.8" dy="3.1">off</tspan><tspan dy="-3.1"> (/s)</tspan></text>
<line x1="112.6" y1="575.1" x2="116.6" y2="575.1" stroke="#000" stroke-width="1.5" />
<text x="112.2" y="580" font-family="Liberation Sans, Arial, sans-serif" font-size="11.8" font-weight="bold" text-anchor="end" fill="#000" stroke="#000" stroke-width="0.5" stroke-linejoin="round">10<tspan font-size="8.2" dx="0.9" dy="-3.7" font-weight="normal" stroke-width="0.25">1</tspan></text>
<line x1="112.6" y1="601.04" x2="116.6" y2="601.04" stroke="#000" stroke-width="1.5" />
<text x="112.2" y="605.94" font-family="Liberation Sans, Arial, sans-serif" font-size="11.8" font-weight="bold" text-anchor="end" fill="#000" stroke="#000" stroke-width="0.5" stroke-linejoin="round">10<tspan font-size="8.2" dx="0.9" dy="-3.7" font-weight="normal" stroke-width="0.25">0</tspan></text>
<line x1="114.9" y1="593.23" x2="116.6" y2="593.23" stroke="#000" stroke-width="0.9" />
<line x1="114.9" y1="588.66" x2="116.6" y2="588.66" stroke="#000" stroke-width="0.9" />
<line x1="114.9" y1="585.42" x2="116.6" y2="585.42" stroke="#000" stroke-width="0.9" />
<line x1="114.9" y1="582.91" x2="116.6" y2="582.91" stroke="#000" stroke-width="0.9" />
<line x1="114.9" y1="580.86" x2="116.6" y2="580.86" stroke="#000" stroke-width="0.9" />
<line x1="114.9" y1="579.12" x2="116.6" y2="579.12" stroke="#000" stroke-width="0.9" />
<line x1="114.9" y1="577.61" x2="116.6" y2="577.61" stroke="#000" stroke-width="0.9" />
<line x1="114.9" y1="576.29" x2="116.6" y2="576.29" stroke="#000" stroke-width="0.9" />
<line x1="112.6" y1="626.99" x2="116.6" y2="626.99" stroke="#000" stroke-width="1.5" />
<text x="112.2" y="631.89" font-family="Liberation Sans, Arial, sans-serif" font-size="11.8" font-weight="bold" text-anchor="end" fill="#000" stroke="#000" stroke-width="0.5" stroke-linejoin="round">10<tspan font-size="8.2" dx="0.9" dy="-3.7" font-weight="normal" stroke-width="0.25">-1</tspan></text>
<line x1="114.9" y1="619.18" x2="116.6" y2="619.18" stroke="#000" stroke-width="0.9" />
<line x1="114.9" y1="614.61" x2="116.6" y2="614.61" stroke="#000" stroke-width="0.9" />
<line x1="114.9" y1="611.37" x2="116.6" y2="611.37" stroke="#000" stroke-width="0.9" />
<line x1="114.9" y1="608.85" x2="116.6" y2="608.85" stroke="#000" stroke-width="0.9" />
<line x1="114.9" y1="606.8" x2="116.6" y2="606.8" stroke="#000" stroke-width="0.9" />
<line x1="114.9" y1="605.06" x2="116.6" y2="605.06" stroke="#000" stroke-width="0.9" />
<line x1="114.9" y1="603.56" x2="116.6" y2="603.56" stroke="#000" stroke-width="0.9" />
<line x1="114.9" y1="602.23" x2="116.6" y2="602.23" stroke="#000" stroke-width="0.9" />
<line x1="112.6" y1="652.93" x2="116.6" y2="652.93" stroke="#000" stroke-width="1.5" />
<text x="112.2" y="657.83" font-family="Liberation Sans, Arial, sans-serif" font-size="11.8" font-weight="bold" text-anchor="end" fill="#000" stroke="#000" stroke-width="0.5" stroke-linejoin="round">10<tspan font-size="8.2" dx="0.9" dy="-3.7" font-weight="normal" stroke-width="0.25">-2</tspan></text>
<line x1="114.9" y1="645.12" x2="116.6" y2="645.12" stroke="#000" stroke-width="0.9" />
<line x1="114.9" y1="640.55" x2="116.6" y2="640.55" stroke="#000" stroke-width="0.9" />
<line x1="114.9" y1="637.31" x2="116.6" y2="637.31" stroke="#000" stroke-width="0.9" />
<line x1="114.9" y1="634.8" x2="116.6" y2="634.8" stroke="#000" stroke-width="0.9" />
<line x1="114.9" y1="632.74" x2="116.6" y2="632.74" stroke="#000" stroke-width="0.9" />
<line x1="114.9" y1="631" x2="116.6" y2="631" stroke="#000" stroke-width="0.9" />
<line x1="114.9" y1="629.5" x2="116.6" y2="629.5" stroke="#000" stroke-width="0.9" />
<line x1="114.9" y1="628.17" x2="116.6" y2="628.17" stroke="#000" stroke-width="0.9" />
<line x1="112.6" y1="678.87" x2="116.6" y2="678.87" stroke="#000" stroke-width="1.5" />
<text x="112.2" y="683.77" font-family="Liberation Sans, Arial, sans-serif" font-size="11.8" font-weight="bold" text-anchor="end" fill="#000" stroke="#000" stroke-width="0.5" stroke-linejoin="round">10<tspan font-size="8.2" dx="0.9" dy="-3.7" font-weight="normal" stroke-width="0.25">-3</tspan></text>
<line x1="114.9" y1="671.06" x2="116.6" y2="671.06" stroke="#000" stroke-width="0.9" />
<line x1="114.9" y1="666.49" x2="116.6" y2="666.49" stroke="#000" stroke-width="0.9" />
<line x1="114.9" y1="663.25" x2="116.6" y2="663.25" stroke="#000" stroke-width="0.9" />
<line x1="114.9" y1="660.74" x2="116.6" y2="660.74" stroke="#000" stroke-width="0.9" />
<line x1="114.9" y1="658.68" x2="116.6" y2="658.68" stroke="#000" stroke-width="0.9" />
<line x1="114.9" y1="656.95" x2="116.6" y2="656.95" stroke="#000" stroke-width="0.9" />
<line x1="114.9" y1="655.44" x2="116.6" y2="655.44" stroke="#000" stroke-width="0.9" />
<line x1="114.9" y1="654.12" x2="116.6" y2="654.12" stroke="#000" stroke-width="0.9" />
<line x1="112.6" y1="704.81" x2="116.6" y2="704.81" stroke="#000" stroke-width="1.5" />
<text x="112.2" y="709.71" font-family="Liberation Sans, Arial, sans-serif" font-size="11.8" font-weight="bold" text-anchor="end" fill="#000" stroke="#000" stroke-width="0.5" stroke-linejoin="round">10<tspan font-size="8.2" dx="0.9" dy="-3.7" font-weight="normal" stroke-width="0.25">-4</tspan></text>
<line x1="114.9" y1="697" x2="116.6" y2="697" stroke="#000" stroke-width="0.9" />
<line x1="114.9" y1="692.44" x2="116.6" y2="692.44" stroke="#000" stroke-width="0.9" />
<line x1="114.9" y1="689.2" x2="116.6" y2="689.2" stroke="#000" stroke-width="0.9" />
<line x1="114.9" y1="686.68" x2="116.6" y2="686.68" stroke="#000" stroke-width="0.9" />
<line x1="114.9" y1="684.63" x2="116.6" y2="684.63" stroke="#000" stroke-width="0.9" />
<line x1="114.9" y1="682.89" x2="116.6" y2="682.89" stroke="#000" stroke-width="0.9" />
<line x1="114.9" y1="681.39" x2="116.6" y2="681.39" stroke="#000" stroke-width="0.9" />
<line x1="114.9" y1="680.06" x2="116.6" y2="680.06" stroke="#000" stroke-width="0.9" />
<line x1="112.6" y1="730.76" x2="116.6" y2="730.76" stroke="#000" stroke-width="1.5" />
<text x="112.2" y="735.66" font-family="Liberation Sans, Arial, sans-serif" font-size="11.8" font-weight="bold" text-anchor="end" fill="#000" stroke="#000" stroke-width="0.5" stroke-linejoin="round">10<tspan font-size="8.2" dx="0.9" dy="-3.7" font-weight="normal" stroke-width="0.25">-5</tspan></text>
<line x1="114.9" y1="722.95" x2="116.6" y2="722.95" stroke="#000" stroke-width="0.9" />
<line x1="114.9" y1="718.38" x2="116.6" y2="718.38" stroke="#000" stroke-width="0.9" />
<line x1="114.9" y1="715.14" x2="116.6" y2="715.14" stroke="#000" stroke-width="0.9" />
<line x1="114.9" y1="712.62" x2="116.6" y2="712.62" stroke="#000" stroke-width="0.9" />
<line x1="114.9" y1="710.57" x2="116.6" y2="710.57" stroke="#000" stroke-width="0.9" />
<line x1="114.9" y1="708.83" x2="116.6" y2="708.83" stroke="#000" stroke-width="0.9" />
<line x1="114.9" y1="707.33" x2="116.6" y2="707.33" stroke="#000" stroke-width="0.9" />
<line x1="114.9" y1="706" x2="116.6" y2="706" stroke="#000" stroke-width="0.9" />
<line x1="112.6" y1="756.7" x2="116.6" y2="756.7" stroke="#000" stroke-width="1.5" />
<text x="112.2" y="761.6" font-family="Liberation Sans, Arial, sans-serif" font-size="11.8" font-weight="bold" text-anchor="end" fill="#000" stroke="#000" stroke-width="0.5" stroke-linejoin="round">10<tspan font-size="8.2" dx="0.9" dy="-3.7" font-weight="normal" stroke-width="0.25">-6</tspan></text>
<line x1="114.9" y1="748.89" x2="116.6" y2="748.89" stroke="#000" stroke-width="0.9" />
<line x1="114.9" y1="744.32" x2="116.6" y2="744.32" stroke="#000" stroke-width="0.9" />
<line x1="114.9" y1="741.08" x2="116.6" y2="741.08" stroke="#000" stroke-width="0.9" />
<line x1="114.9" y1="738.57" x2="116.6" y2="738.57" stroke="#000" stroke-width="0.9" />
<line x1="114.9" y1="736.51" x2="116.6" y2="736.51" stroke="#000" stroke-width="0.9" />
<line x1="114.9" y1="734.78" x2="116.6" y2="734.78" stroke="#000" stroke-width="0.9" />
<line x1="114.9" y1="733.27" x2="116.6" y2="733.27" stroke="#000" stroke-width="0.9" />
<line x1="114.9" y1="731.94" x2="116.6" y2="731.94" stroke="#000" stroke-width="0.9" />
<line x1="116.6" y1="575.1" x2="450.6" y2="575.1" stroke="#000" stroke-width="1.3" />
<line x1="450.6" y1="575.1" x2="450.6" y2="756.7" stroke="#000" stroke-width="1.3" />
<line x1="116.6" y1="574.6" x2="116.6" y2="757.7" stroke="#000" stroke-width="2.2" />
<line x1="115.6" y1="756.7" x2="451.2" y2="756.7" stroke="#000" stroke-width="2.2" />
<line x1="140.7" y1="756.7" x2="140.7" y2="761.2" stroke="#000" stroke-width="1.4" />
<line x1="188.6" y1="756.7" x2="188.6" y2="761.2" stroke="#000" stroke-width="1.4" />
<line x1="236" y1="756.7" x2="236" y2="761.2" stroke="#000" stroke-width="1.4" />
<line x1="283.8" y1="756.7" x2="283.8" y2="761.2" stroke="#000" stroke-width="1.4" />
<line x1="331.1" y1="756.7" x2="331.1" y2="761.2" stroke="#000" stroke-width="1.4" />
<line x1="378.6" y1="756.7" x2="378.6" y2="761.2" stroke="#000" stroke-width="1.4" />
<line x1="426.4" y1="756.7" x2="426.4" y2="761.2" stroke="#000" stroke-width="1.4" />
<text x="140.7" y="775.28" font-family="Liberation Sans, Arial, sans-serif" font-size="11.4" font-weight="bold" text-anchor="middle" fill="#000" stroke="#000" stroke-width="0.45" stroke-linejoin="round" >0</text>
<text x="188.6" y="775.28" font-family="Liberation Sans, Arial, sans-serif" font-size="11.4" font-weight="bold" text-anchor="middle" fill="#000" stroke="#000" stroke-width="0.45" stroke-linejoin="round" >56</text>
<text x="236" y="775.28" font-family="Liberation Sans, Arial, sans-serif" font-size="11.4" font-weight="bold" text-anchor="middle" fill="#000" stroke="#000" stroke-width="0.45" stroke-linejoin="round" >0</text>
<text x="283.8" y="775.28" font-family="Liberation Sans, Arial, sans-serif" font-size="11.4" font-weight="bold" text-anchor="middle" fill="#000" stroke="#000" stroke-width="0.45" stroke-linejoin="round" >56</text>
<text x="331.1" y="775.28" font-family="Liberation Sans, Arial, sans-serif" font-size="11.4" font-weight="bold" text-anchor="middle" fill="#000" stroke="#000" stroke-width="0.45" stroke-linejoin="round" >0</text>
<text x="378.6" y="775.28" font-family="Liberation Sans, Arial, sans-serif" font-size="11.4" font-weight="bold" text-anchor="middle" fill="#000" stroke="#000" stroke-width="0.45" stroke-linejoin="round" >56</text>
<line x1="130" y1="781.7" x2="196.6" y2="781.7" stroke="#000" stroke-width="2.6" />
<line x1="224.1" y1="781.7" x2="290.3" y2="781.7" stroke="#000" stroke-width="2.6" />
<line x1="320.4" y1="781.7" x2="386.7" y2="781.7" stroke="#000" stroke-width="2.6" />
<text x="166" y="796.28" font-family="Liberation Sans, Arial, sans-serif" font-size="11.4" font-weight="bold" text-anchor="middle" fill="#000" stroke="#000" stroke-width="0.45" stroke-linejoin="round" >Placebo</text>
<text x="258" y="796.48" font-family="Liberation Sans, Arial, sans-serif" font-size="11.4" font-weight="bold" text-anchor="middle" fill="#000" stroke="#000" stroke-width="0.45" stroke-linejoin="round" >90 <tspan font-family="Liberation Serif, serif" font-weight="normal">µ</tspan>g</text>
<text x="357.5" y="796.4" font-family="Liberation Sans, Arial, sans-serif" font-size="11.4" font-weight="bold" text-anchor="middle" fill="#000" stroke="#000" stroke-width="0.45" stroke-linejoin="round">90 <tspan font-family="Liberation Serif, serif" font-weight="normal">µ</tspan>g + AlPO<tspan font-size="8" dy="2.5">4</tspan></text>
<text x="437.8" y="780.38" font-family="Liberation Sans, Arial, sans-serif" font-size="11.4" font-weight="bold" text-anchor="middle" fill="#000" stroke="#000" stroke-width="0.45" stroke-linejoin="round" >Palivizumab</text>
<text x="437.8" y="793.68" font-family="Liberation Sans, Arial, sans-serif" font-size="11.4" font-weight="bold" text-anchor="middle" fill="#000" stroke="#000" stroke-width="0.45" stroke-linejoin="round" >mAb</text>
<circle cx="127.6" cy="601.3" r="2.2" fill="none" stroke="#7c9fd0" stroke-width="1.4"/>
<circle cx="129.96" cy="601.3" r="2.2" fill="none" stroke="#7c9fd0" stroke-width="1.4"/>
<circle cx="132.32" cy="601.3" r="2.2" fill="none" stroke="#7c9fd0" stroke-width="1.4"/>
<circle cx="134.68" cy="601.3" r="2.2" fill="none" stroke="#7c9fd0" stroke-width="1.4"/>
<circle cx="137.04" cy="601.3" r="2.2" fill="none" stroke="#7c9fd0" stroke-width="1.4"/>
<circle cx="139.4" cy="601.3" r="2.2" fill="none" stroke="#7c9fd0" stroke-width="1.4"/>
<circle cx="141.76" cy="601.3" r="2.2" fill="none" stroke="#7c9fd0" stroke-width="1.4"/>
<circle cx="144.12" cy="601.3" r="2.2" fill="none" stroke="#7c9fd0" stroke-width="1.4"/>
<circle cx="146.48" cy="601.3" r="2.2" fill="none" stroke="#7c9fd0" stroke-width="1.4"/>
<circle cx="148.84" cy="601.3" r="2.2" fill="none" stroke="#7c9fd0" stroke-width="1.4"/>
<circle cx="151.2" cy="601.3" r="2.2" fill="none" stroke="#7c9fd0" stroke-width="1.4"/>
<circle cx="153.56" cy="601.3" r="2.2" fill="none" stroke="#7c9fd0" stroke-width="1.4"/>
<circle cx="140.7" cy="682" r="2.3" fill="none" stroke="#7c9fd0" stroke-width="1.3"/>
<rect x="174" y="599.2" width="28.8" height="4.2" fill="#7c9fd0" stroke="none" stroke-width="1" />
<rect x="186.8" y="689" width="3.6" height="3.6" fill="#7c9fd0" stroke="none" stroke-width="1" />
<rect x="220" y="598.9" width="32.1" height="4.8" fill="#000" stroke="none" stroke-width="0" rx="2.4"/>
<circle cx="235.9" cy="721.1" r="2.1" fill="none" stroke="#000" stroke-width="1.6"/>
<circle cx="235.9" cy="731" r="2.1" fill="none" stroke="#000" stroke-width="1.6"/>
<rect x="269.4" y="598.8" width="28.4" height="4.3" fill="#000" stroke="none" stroke-width="1" />
<rect x="274.8" y="596.6" width="18" height="2.4" fill="#000" stroke="none" stroke-width="1" />
<rect x="281.8" y="689.9" width="4" height="4" fill="#000" stroke="none" stroke-width="1" />
<rect x="281.8" y="709" width="4" height="4" fill="#000" stroke="none" stroke-width="1" />
<rect x="281.8" y="715.2" width="4" height="4" fill="#000" stroke="none" stroke-width="1" />
<polygon points="315.8,601.3 318.3,598.9 345.1,598.9 347.6,601.3 345.1,603.7 318.3,603.7" fill="#000"/>
<rect x="363.9" y="599.3" width="30.4" height="4.2" fill="#000" stroke="none" stroke-width="1" />
<rect x="376.5" y="654.8" width="4" height="4" fill="#000" stroke="none" stroke-width="1" />
<rect x="379.4" y="681.8" width="4" height="4" fill="#000" stroke="none" stroke-width="1" />
<rect x="379.8" y="695.3" width="4" height="4" fill="#000" stroke="none" stroke-width="1" />
<rect x="374.2" y="698.3" width="4" height="4" fill="#000" stroke="none" stroke-width="1" />
<rect x="374.2" y="707.7" width="4" height="4" fill="#000" stroke="none" stroke-width="1" />
<rect x="379.8" y="707.7" width="4" height="4" fill="#000" stroke="none" stroke-width="1" />
<rect x="376.8" y="729.1" width="4" height="4" fill="#000" stroke="none" stroke-width="1" />
<line x1="141.2" y1="595.2" x2="141.2" y2="618.3" stroke="#000" stroke-width="1.8" />
<line x1="133.5" y1="595.2" x2="148.9" y2="595.2" stroke="#000" stroke-width="2" />
<line x1="133.5" y1="618.3" x2="148.9" y2="618.3" stroke="#000" stroke-width="2" />
<line x1="125.3" y1="606.3" x2="157.1" y2="606.3" stroke="#000" stroke-width="1.5" />
<line x1="188.5" y1="594.3" x2="188.5" y2="619.8" stroke="#000" stroke-width="1.8" />
<line x1="180.5" y1="594.3" x2="196.5" y2="594.3" stroke="#000" stroke-width="2" />
<line x1="180.5" y1="619.8" x2="196.5" y2="619.8" stroke="#000" stroke-width="2" />
<line x1="172.5" y1="607" x2="204.5" y2="607" stroke="#000" stroke-width="1.5" />
<line x1="236.2" y1="594.1" x2="236.2" y2="642" stroke="#000" stroke-width="1.8" />
<line x1="228.2" y1="594.1" x2="244.2" y2="594.1" stroke="#000" stroke-width="2" />
<line x1="228.2" y1="642" x2="244.2" y2="642" stroke="#000" stroke-width="2" />
<line x1="219.9" y1="617.7" x2="252.5" y2="617.7" stroke="#000" stroke-width="1.5" />
<line x1="283.8" y1="597.8" x2="283.8" y2="646.5" stroke="#000" stroke-width="2.4" />
<line x1="275.8" y1="597.8" x2="291.8" y2="597.8" stroke="#000" stroke-width="2" />
<line x1="275.8" y1="646.5" x2="291.8" y2="646.5" stroke="#000" stroke-width="2" />
<line x1="267.6" y1="622" x2="300" y2="622" stroke="#000" stroke-width="1.5" />
<line x1="378.9" y1="623.5" x2="378.9" y2="680.4" stroke="#000" stroke-width="2.4" />
<line x1="371.2" y1="623.5" x2="386.6" y2="623.5" stroke="#000" stroke-width="2" />
<line x1="371.2" y1="680.4" x2="386.6" y2="680.4" stroke="#000" stroke-width="2" />
<line x1="363.1" y1="651.9" x2="394.7" y2="651.9" stroke="#000" stroke-width="1.5" />
<text x="152.5" y="617.01" font-family="Liberation Sans, Arial, sans-serif" font-size="8.4" font-weight="bold" text-anchor="middle" fill="#000" stroke="#000" stroke-width="0.1" stroke-linejoin="round" >0.62</text>
<text x="198" y="616.81" font-family="Liberation Sans, Arial, sans-serif" font-size="8.4" font-weight="bold" text-anchor="middle" fill="#000" stroke="#000" stroke-width="0.1" stroke-linejoin="round" >0.59</text>
<text x="245.6" y="631.21" font-family="Liberation Sans, Arial, sans-serif" font-size="8.4" font-weight="bold" text-anchor="middle" fill="#000" stroke="#000" stroke-width="0.1" stroke-linejoin="round" >0.23</text>
<text x="296.2" y="635.11" font-family="Liberation Sans, Arial, sans-serif" font-size="8.4" font-weight="bold" text-anchor="middle" fill="#000" stroke="#000" stroke-width="0.1" stroke-linejoin="round" >0.15</text>
<text x="333.6" y="613.11" font-family="Liberation Sans, Arial, sans-serif" font-size="8.4" font-weight="bold" text-anchor="middle" fill="#000" stroke="#000" stroke-width="0.1" stroke-linejoin="round" >1.00</text>
<text x="382.6" y="661.4" textLength="32" lengthAdjust="spacingAndGlyphs" font-family="Liberation Sans, Arial, sans-serif" font-size="8" font-weight="bold" fill="#000" stroke="#000" stroke-width="0.3">1.11x10<tspan font-size="5.6" dy="-3" font-weight="normal" stroke-width="0.15">-2</tspan></text>
<text x="413" y="635.7" textLength="31.8" lengthAdjust="spacingAndGlyphs" font-family="Liberation Sans, Arial, sans-serif" font-size="8" font-weight="bold" fill="#000" stroke="#000" stroke-width="0.3">1.87x10<tspan font-size="5.6" dy="-3" font-weight="normal" stroke-width="0.15">-2</tspan></text>
<polygon points="413.5,646 416.5,641.6 419.5,646" fill="#888" stroke="#555" stroke-width="0.6"/>
<polygon points="428.5,644 431.5,639.8 434.5,644" fill="#888" stroke="#555" stroke-width="0.6"/>
<circle cx="426.6" cy="650.2" r="1.7" fill="#fff" stroke="#444" stroke-width="0.8"/>
<circle cx="432.2" cy="650.2" r="1.7" fill="#fff" stroke="#444" stroke-width="0.8"/>
<circle cx="437.6" cy="650.2" r="1.7" fill="#fff" stroke="#444" stroke-width="0.8"/>
<rect x="418.6" y="642.6" width="15.6" height="7.2" fill="#000" stroke="none" stroke-width="1" />
<line x1="419.5" y1="646.2" x2="433.5" y2="646.2" stroke="#fff" stroke-width="0.9" />
<line x1="426.4" y1="642.6" x2="426.4" y2="649.8" stroke="#000" stroke-width="1.6" />
<line x1="410.8" y1="646.6" x2="442.4" y2="646.6" stroke="#000" stroke-width="1.3" />
</svg></body></html>
